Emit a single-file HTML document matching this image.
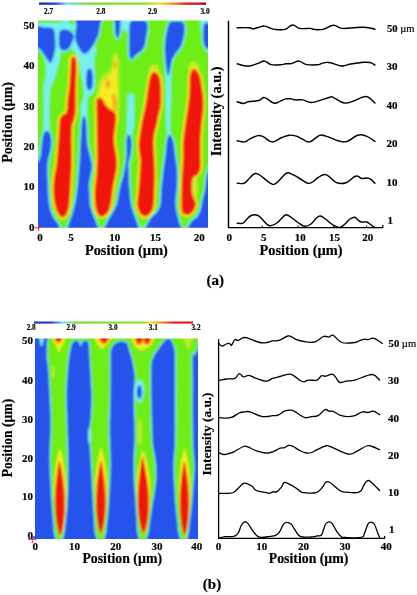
<!DOCTYPE html>
<html><head><meta charset="utf-8"><style>
html,body{margin:0;padding:0;background:#fff;}
svg{display:block;}
text{font-family:"Liberation Serif",serif;font-weight:bold;fill:#000;stroke:#000;stroke-width:0.18px;}
.t{font-size:11px;}
.ax{font-size:14.4px;}
.ay{font-size:14px;}
.cb{font-size:7.2px;stroke-width:0.35px;}
</style></head><body>
<svg width="417" height="595" viewBox="0 0 417 595">
<defs>
<linearGradient id="jetA" x1="0" x2="1" y1="0" y2="0">
<stop offset="0" stop-color="#1a28a0"/>
<stop offset="0.1" stop-color="#2040d8"/>
<stop offset="0.165" stop-color="#70e0f0"/>
<stop offset="0.3" stop-color="#70e030"/>
<stop offset="0.63" stop-color="#88e028"/>
<stop offset="0.72" stop-color="#f4e420"/>
<stop offset="0.8" stop-color="#f49020"/>
<stop offset="0.88" stop-color="#f01818"/>
<stop offset="0.96" stop-color="#d01020"/>
<stop offset="1" stop-color="#700010"/>
</linearGradient>
<linearGradient id="jetB" x1="0" x2="1" y1="0" y2="0">
<stop offset="0" stop-color="#1a30b0"/>
<stop offset="0.11" stop-color="#2040d8"/>
<stop offset="0.18" stop-color="#70e0f0"/>
<stop offset="0.27" stop-color="#70e030"/>
<stop offset="0.68" stop-color="#88e028"/>
<stop offset="0.73" stop-color="#f4e420"/>
<stop offset="0.8" stop-color="#f49020"/>
<stop offset="0.88" stop-color="#f01818"/>
<stop offset="1" stop-color="#e01020"/>
</linearGradient>
<filter id="bl" x="-10%" y="-10%" width="120%" height="120%"><feGaussianBlur stdDeviation="0.9"/></filter>
<clipPath id="clipA"><rect x="38" y="20.5" width="170" height="207.2"/></clipPath>
<clipPath id="clipB"><rect x="35" y="338.5" width="163" height="200.5"/></clipPath>
</defs>

<!-- ===== Panel (a) ===== -->
<rect x="39" y="2.5" width="167" height="2.3" fill="url(#jetA)"/>
<g class="cb">
<text x="48.6" y="14" text-anchor="middle">2.7</text>
<text x="100.8" y="14" text-anchor="middle">2.8</text>
<text x="152.6" y="14" text-anchor="middle">2.9</text>
<text x="205" y="14" text-anchor="middle">3.0</text>
</g>
<g clip-path="url(#clipA)"><g filter="url(#bl)">
<rect x="30" y="13" width="185" height="223" fill="#6cee14"/>
<path d="M34.0,16.0 C41.2,14.2 70.0,14.2 77.0,16.0 C84.0,17.8 77.2,24.8 76.0,27.0 C74.8,29.2 72.3,28.7 70.0,29.0 C67.7,29.3 64.7,29.2 62.0,29.0 C59.3,28.8 57.0,28.3 54.0,28.0 C51.0,27.7 47.3,27.2 44.0,27.0 C40.7,26.8 35.7,28.8 34.0,27.0 C32.3,25.2 26.8,17.8 34.0,16.0Z" fill="#78f0f0"/>
<path d="M52.0,30.0 C53.3,27.7 58.5,26.7 60.0,30.0 C61.5,33.3 61.0,45.5 61.0,50.0 C61.0,54.5 60.4,54.5 60.0,57.0 C59.6,59.5 59.2,62.2 58.5,65.0 C57.8,67.8 56.8,71.5 56.0,74.0 C55.2,76.5 54.9,77.7 54.0,80.0 C53.1,82.3 51.2,84.7 50.5,88.0 C49.8,91.3 49.7,96.3 49.5,100.0 C49.3,103.7 49.3,105.8 49.3,110.0 C49.3,114.2 49.5,121.2 49.5,125.0 C49.5,128.8 50.0,131.7 49.0,133.0 C48.0,134.3 44.3,135.2 43.5,133.0 C42.7,130.8 43.9,123.8 44.0,120.0 C44.1,116.2 44.0,113.3 44.0,110.0 C44.0,106.7 43.8,104.2 43.8,100.0 C43.8,95.8 43.4,89.0 43.8,85.0 C44.2,81.0 45.7,79.3 46.0,76.0 C46.3,72.7 45.8,68.2 45.5,65.0 C45.2,61.8 44.9,59.5 44.0,57.0 C43.1,54.5 41.3,51.5 40.0,50.0 C38.7,48.5 36.7,49.3 36.0,48.0 C35.3,46.7 33.3,42.7 36.0,42.0 C38.7,41.3 49.3,46.0 52.0,44.0 C54.7,42.0 50.7,32.3 52.0,30.0Z" fill="#78f0f0"/>
<path d="M70.0,44.0 C70.2,42.0 72.7,38.0 74.0,38.0 C75.3,38.0 76.3,42.5 78.0,44.0 C79.7,45.5 81.8,46.7 84.0,47.0 C86.2,47.3 89.2,46.0 91.0,46.0 C92.8,46.0 94.1,46.3 95.0,47.0 C95.9,47.7 96.5,48.7 96.5,50.0 C96.5,51.3 95.3,53.3 95.0,55.0 C94.7,56.7 94.6,58.2 94.5,60.0 C94.4,61.8 94.4,63.5 94.5,66.0 C94.6,68.5 94.9,71.8 95.0,75.0 C95.1,78.2 95.3,82.0 95.0,85.0 C94.7,88.0 94.2,91.0 93.0,93.0 C91.8,95.0 89.0,94.5 88.0,97.0 C87.0,99.5 87.2,104.5 87.0,108.0 C86.8,111.5 87.4,116.3 86.5,118.0 C85.6,119.7 82.4,120.2 81.5,118.0 C80.6,115.8 80.6,108.7 81.0,105.0 C81.4,101.3 83.7,99.3 84.0,96.0 C84.3,92.7 83.5,88.7 83.0,85.0 C82.5,81.3 81.6,77.5 81.0,74.0 C80.4,70.5 80.3,67.3 79.5,64.0 C78.7,60.7 77.1,56.3 76.0,54.0 C74.9,51.7 74.0,51.7 73.0,50.0 C72.0,48.3 69.8,46.0 70.0,44.0Z" fill="#78f0f0"/>
<path d="M120.0,16.0 C121.5,13.8 129.3,13.7 131.0,16.0 C132.7,18.3 130.8,27.5 130.0,30.0 C129.2,32.5 127.3,31.2 126.0,31.0 C124.7,30.8 123.0,31.5 122.0,29.0 C121.0,26.5 118.5,18.2 120.0,16.0Z" fill="#78f0f0"/>
<path d="M165.5,66.0 C166.4,63.7 170.1,62.0 171.0,66.0 C171.9,70.0 171.0,83.5 171.0,90.0 C171.0,96.5 170.9,100.3 170.8,105.0 C170.7,109.7 170.6,113.8 170.5,118.0 C170.4,122.2 170.5,126.8 170.5,130.0 C170.5,133.2 171.0,135.8 170.5,137.0 C170.0,138.2 168.2,139.0 167.5,137.0 C166.8,135.0 166.6,129.2 166.3,125.0 C166.1,120.8 166.1,116.2 166.0,112.0 C165.9,107.8 165.9,105.3 165.8,100.0 C165.7,94.7 165.6,85.7 165.5,80.0 C165.4,74.3 164.6,68.3 165.5,66.0Z" fill="#78f0f0"/>
<path d="M128.0,95.0 C129.0,93.3 132.5,92.5 133.5,95.0 C134.5,97.5 134.1,105.0 134.2,110.0 C134.2,115.0 134.2,121.0 133.8,125.0 C133.4,129.0 133.1,132.5 132.0,134.0 C130.9,135.5 127.8,136.3 127.0,134.0 C126.2,131.7 126.9,124.8 127.0,120.0 C127.1,115.2 127.3,109.2 127.5,105.0 C127.7,100.8 127.0,96.7 128.0,95.0Z" fill="#78f0f0"/>
<path d="M201.0,16.0 C202.8,13.3 210.2,10.0 212.0,16.0 C213.8,22.0 212.8,46.1 212.0,52.0 C211.2,57.9 208.5,52.8 207.0,51.5 C205.5,50.2 203.9,47.2 203.0,44.0 C202.1,40.8 201.8,36.7 201.5,32.0 C201.2,27.3 199.2,18.7 201.0,16.0Z" fill="#78f0f0"/>
<path d="M36.0,16.0 C40.3,14.9 57.8,15.0 62.0,16.0 C66.2,17.0 62.7,20.9 61.0,22.0 C59.3,23.1 54.8,22.7 52.0,22.8 C49.2,22.9 46.7,22.6 44.0,22.5 C41.3,22.4 37.3,23.6 36.0,22.5 C34.7,21.4 31.7,17.1 36.0,16.0Z" fill="#6cee14"/>
<path d="M67.5,16.0 C68.8,14.7 75.5,14.9 77.0,16.0 C78.5,17.1 77.2,21.1 76.5,22.5 C75.8,23.9 74.2,24.2 73.0,24.5 C71.8,24.8 70.4,25.4 69.5,24.0 C68.6,22.6 66.2,17.3 67.5,16.0Z" fill="#6cee14"/>
<path d="M36.0,27.5 C37.3,24.4 41.5,27.4 44.0,27.5 C46.5,27.6 49.3,27.4 51.0,27.8 C52.7,28.2 53.3,28.6 54.0,30.0 C54.7,31.4 54.8,33.7 55.0,36.0 C55.2,38.3 55.5,41.7 55.5,44.0 C55.5,46.3 55.4,47.8 55.0,50.0 C54.6,52.2 54.0,54.8 53.3,57.0 C52.6,59.2 51.6,62.3 50.8,63.0 C50.0,63.7 49.3,61.9 48.5,61.0 C47.7,60.1 47.0,58.9 46.0,57.5 C45.0,56.1 43.6,54.0 42.5,52.5 C41.4,51.0 40.6,49.6 39.5,48.5 C38.4,47.4 36.6,49.5 36.0,46.0 C35.4,42.5 34.7,30.6 36.0,27.5Z" fill="#78f0f0" stroke="#78f0f0" stroke-width="3" stroke-linejoin="round"/>
<path d="M60.5,30.5 C61.5,29.6 63.6,29.5 65.0,29.5 C66.4,29.5 67.8,29.8 69.0,30.5 C70.2,31.2 71.7,32.4 72.5,33.5 C73.3,34.6 74.0,35.8 74.0,37.0 C74.0,38.2 73.1,39.5 72.5,41.0 C71.9,42.5 71.3,44.6 70.5,46.0 C69.7,47.4 68.6,48.8 67.5,49.5 C66.4,50.2 65.2,50.6 64.0,50.5 C62.8,50.4 61.3,50.1 60.5,49.0 C59.7,47.9 59.2,46.3 59.0,44.0 C58.8,41.7 58.8,37.2 59.0,35.0 C59.2,32.8 59.5,31.4 60.5,30.5Z" fill="#78f0f0" stroke="#78f0f0" stroke-width="3" stroke-linejoin="round"/>
<path d="M77.0,16.0 C80.9,14.5 96.2,14.2 100.0,16.0 C103.8,17.8 99.8,24.0 99.5,27.0 C99.2,30.0 99.2,31.7 98.5,34.0 C97.8,36.3 96.6,38.8 95.5,41.0 C94.4,43.2 93.2,45.2 92.0,47.0 C90.8,48.8 89.2,50.8 88.0,52.0 C86.8,53.2 85.6,54.0 84.5,54.0 C83.4,54.0 82.5,53.2 81.5,52.0 C80.5,50.8 79.5,49.0 78.5,47.0 C77.5,45.0 76.0,42.3 75.5,40.0 C75.0,37.7 75.3,35.5 75.5,33.0 C75.7,30.5 76.2,27.8 76.5,25.0 C76.8,22.2 73.1,17.5 77.0,16.0Z" fill="#78f0f0" stroke="#78f0f0" stroke-width="3" stroke-linejoin="round"/>
<path d="M89.5,68.5 C90.3,68.5 91.5,69.2 92.0,71.0 C92.5,72.8 92.8,76.3 92.8,79.0 C92.8,81.7 92.8,85.1 92.3,87.0 C91.8,88.9 90.4,90.5 89.5,90.5 C88.6,90.5 87.2,88.9 86.7,87.0 C86.2,85.1 86.2,81.7 86.2,79.0 C86.2,76.3 86.5,72.8 87.0,71.0 C87.5,69.2 88.7,68.5 89.5,68.5Z" fill="#78f0f0" stroke="#78f0f0" stroke-width="3" stroke-linejoin="round"/>
<path d="M115.0,16.0 C115.8,14.0 119.1,14.0 120.0,16.0 C120.9,18.0 120.3,24.8 120.2,28.0 C120.1,31.2 119.8,33.3 119.3,35.0 C118.8,36.7 118.1,38.0 117.5,38.0 C116.9,38.0 116.2,36.7 115.8,35.0 C115.4,33.3 115.1,31.2 115.0,28.0 C114.9,24.8 114.2,18.0 115.0,16.0Z" fill="#78f0f0" stroke="#78f0f0" stroke-width="3" stroke-linejoin="round"/>
<path d="M131.5,21.2 C132.9,20.5 135.8,20.6 138.0,20.6 C140.2,20.6 143.4,20.4 145.0,21.0 C146.6,21.6 146.9,22.5 147.3,24.0 C147.7,25.5 147.5,27.7 147.3,30.0 C147.1,32.3 146.5,35.3 146.0,38.0 C145.5,40.7 145.3,43.8 144.5,46.0 C143.7,48.2 142.3,49.6 141.0,51.0 C139.7,52.4 137.8,53.4 136.5,54.5 C135.2,55.6 134.3,56.7 133.5,57.5 C132.7,58.3 132.1,59.6 131.5,59.5 C130.9,59.4 130.2,58.6 129.8,57.0 C129.4,55.4 129.3,53.7 129.2,50.0 C129.1,46.3 129.2,39.2 129.3,35.0 C129.4,30.8 129.1,27.3 129.5,25.0 C129.9,22.7 130.1,21.9 131.5,21.2Z" fill="#78f0f0" stroke="#78f0f0" stroke-width="3" stroke-linejoin="round"/>
<path d="M170.5,22.0 C171.8,21.4 174.1,21.3 176.0,21.3 C177.9,21.3 180.6,21.2 182.0,21.8 C183.4,22.4 183.9,23.3 184.3,25.0 C184.7,26.7 184.7,29.5 184.5,32.0 C184.3,34.5 183.7,37.5 183.0,40.0 C182.3,42.5 181.7,44.8 180.5,47.0 C179.3,49.2 177.4,50.8 176.0,53.0 C174.6,55.2 172.9,57.7 172.0,60.0 C171.1,62.3 171.1,64.3 170.5,67.0 C169.9,69.7 169.2,75.5 168.5,76.0 C167.8,76.5 167.0,72.7 166.5,70.0 C166.0,67.3 165.8,63.7 165.5,60.0 C165.2,56.3 164.7,52.2 164.8,48.0 C164.9,43.8 165.4,38.8 166.0,35.0 C166.6,31.2 167.8,27.2 168.5,25.0 C169.2,22.8 169.2,22.6 170.5,22.0Z" fill="#78f0f0" stroke="#78f0f0" stroke-width="3" stroke-linejoin="round"/>
<path d="M36.0,166.0 C36.4,154.0 37.7,163.8 38.5,162.0 C39.3,160.2 40.2,157.8 40.8,155.0 C41.3,152.2 41.4,148.2 41.8,145.0 C42.2,141.8 42.3,138.3 43.0,136.0 C43.7,133.7 44.9,131.5 46.0,131.0 C47.1,130.5 48.6,131.5 49.5,133.0 C50.4,134.5 51.1,137.2 51.3,140.0 C51.5,142.8 51.0,146.7 50.5,150.0 C50.0,153.3 48.5,156.7 48.0,160.0 C47.5,163.3 47.3,165.8 47.3,170.0 C47.3,174.2 47.5,179.2 47.8,185.0 C48.1,190.8 48.3,199.7 49.2,205.0 C50.1,210.3 51.5,213.8 53.0,217.0 C54.5,220.2 56.9,221.2 58.0,224.0 C59.1,226.8 63.2,232.3 59.5,234.0 C55.8,235.7 39.9,245.3 36.0,234.0 C32.1,222.7 35.6,178.0 36.0,166.0Z" fill="#78f0f0" stroke="#78f0f0" stroke-width="3" stroke-linejoin="round"/>
<path d="M84.0,116.0 C84.6,116.0 85.6,117.7 86.0,120.0 C86.4,122.3 86.2,125.8 86.5,130.0 C86.8,134.2 86.8,140.0 87.5,145.0 C88.2,150.0 90.2,156.3 91.0,160.0 C91.8,163.7 92.2,164.0 92.0,167.0 C91.8,170.0 90.5,175.0 90.0,178.0 C89.5,181.0 89.1,182.2 89.0,185.0 C88.9,187.8 89.3,191.7 89.5,195.0 C89.7,198.3 89.4,201.7 90.0,205.0 C90.6,208.3 91.8,211.7 93.0,215.0 C94.2,218.3 96.2,221.8 97.0,225.0 C97.8,228.2 102.4,232.5 97.5,234.0 C92.6,235.5 72.3,235.5 67.5,234.0 C62.7,232.5 67.8,228.2 68.5,225.0 C69.2,221.8 71.0,218.3 72.0,215.0 C73.0,211.7 74.0,208.3 74.7,205.0 C75.5,201.7 76.0,198.3 76.5,195.0 C77.0,191.7 77.4,189.2 77.8,185.0 C78.2,180.8 78.7,174.2 79.0,170.0 C79.3,165.8 79.5,164.2 79.8,160.0 C80.0,155.8 80.2,150.0 80.5,145.0 C80.8,140.0 81.0,134.2 81.3,130.0 C81.6,125.8 81.8,122.3 82.2,120.0 C82.7,117.7 83.4,116.0 84.0,116.0Z" fill="#78f0f0" stroke="#78f0f0" stroke-width="3" stroke-linejoin="round"/>
<path d="M128.5,134.5 C129.2,134.5 130.3,136.2 130.8,138.0 C131.3,139.8 131.6,142.2 131.5,145.0 C131.4,147.8 131.0,152.0 130.5,155.0 C130.0,158.0 128.8,160.5 128.5,163.0 C128.2,165.5 128.5,166.3 128.6,170.0 C128.7,173.7 128.7,179.2 129.1,185.0 C129.5,190.8 130.2,199.7 131.2,205.0 C132.2,210.3 133.9,213.5 135.0,217.0 C136.1,220.5 137.4,223.2 138.0,226.0 C138.6,228.8 144.2,232.7 138.5,234.0 C132.8,235.3 109.4,235.5 104.0,234.0 C98.6,232.5 105.0,227.8 106.0,225.0 C107.0,222.2 108.2,220.3 110.0,217.0 C111.8,213.7 115.1,208.7 116.5,205.0 C117.9,201.3 117.8,198.3 118.5,195.0 C119.2,191.7 119.8,188.3 120.6,185.0 C121.4,181.7 122.7,178.3 123.5,175.0 C124.3,171.7 124.8,168.3 125.3,165.0 C125.8,161.7 126.3,158.3 126.5,155.0 C126.7,151.7 126.5,147.8 126.5,145.0 C126.5,142.2 126.5,139.8 126.8,138.0 C127.1,136.2 127.8,134.5 128.5,134.5Z" fill="#78f0f0" stroke="#78f0f0" stroke-width="3" stroke-linejoin="round"/>
<path d="M169.0,135.0 C169.8,134.2 170.8,135.8 171.5,137.0 C172.2,138.2 172.7,139.0 173.3,142.0 C173.9,145.0 174.4,150.3 175.0,155.0 C175.6,159.7 176.7,165.0 177.0,170.0 C177.3,175.0 177.2,180.0 177.0,185.0 C176.8,190.0 175.6,195.5 175.5,200.0 C175.4,204.5 175.9,208.3 176.5,212.0 C177.1,215.7 178.4,218.3 179.0,222.0 C179.6,225.7 185.6,232.0 180.0,234.0 C174.4,236.0 151.0,235.5 145.5,234.0 C140.0,232.5 145.9,227.8 147.0,225.0 C148.1,222.2 150.3,219.2 152.0,217.0 C153.7,214.8 155.6,214.0 157.0,212.0 C158.4,210.0 159.6,207.8 160.3,205.0 C161.0,202.2 160.8,198.3 161.0,195.0 C161.2,191.7 161.4,189.2 161.8,185.0 C162.2,180.8 162.9,175.0 163.5,170.0 C164.1,165.0 164.9,159.7 165.5,155.0 C166.1,150.3 166.2,145.3 166.8,142.0 C167.4,138.7 168.2,135.8 169.0,135.0Z" fill="#78f0f0" stroke="#78f0f0" stroke-width="3" stroke-linejoin="round"/>
<path d="M203.8,25.0 C204.3,23.0 205.0,22.8 206.0,23.0 C207.0,23.2 209.3,22.2 210.0,26.0 C210.7,29.8 210.6,42.2 210.0,46.0 C209.4,49.8 207.5,48.8 206.5,48.5 C205.5,48.2 204.6,46.2 204.0,44.0 C203.4,41.8 203.2,38.2 203.2,35.0 C203.2,31.8 203.3,27.0 203.8,25.0Z" fill="#78f0f0" stroke="#78f0f0" stroke-width="3" stroke-linejoin="round"/>
<path d="M212.0,168.0 C211.2,158.2 208.2,171.3 207.0,175.0 C205.8,178.7 205.8,185.8 205.0,190.0 C204.2,194.2 203.2,196.7 202.5,200.0 C201.8,203.3 201.4,207.2 200.5,210.0 C199.6,212.8 198.6,215.0 197.0,217.0 C195.4,219.0 192.4,219.2 191.0,222.0 C189.6,224.8 185.0,232.0 188.5,234.0 C192.0,236.0 208.1,245.0 212.0,234.0 C215.9,223.0 212.8,177.8 212.0,168.0Z" fill="#78f0f0" stroke="#78f0f0" stroke-width="3" stroke-linejoin="round"/>
<path d="M36.0,27.5 C37.3,24.4 41.5,27.4 44.0,27.5 C46.5,27.6 49.3,27.4 51.0,27.8 C52.7,28.2 53.3,28.6 54.0,30.0 C54.7,31.4 54.8,33.7 55.0,36.0 C55.2,38.3 55.5,41.7 55.5,44.0 C55.5,46.3 55.4,47.8 55.0,50.0 C54.6,52.2 54.0,54.8 53.3,57.0 C52.6,59.2 51.6,62.3 50.8,63.0 C50.0,63.7 49.3,61.9 48.5,61.0 C47.7,60.1 47.0,58.9 46.0,57.5 C45.0,56.1 43.6,54.0 42.5,52.5 C41.4,51.0 40.6,49.6 39.5,48.5 C38.4,47.4 36.6,49.5 36.0,46.0 C35.4,42.5 34.7,30.6 36.0,27.5Z" fill="#2652ec"/>
<path d="M60.5,30.5 C61.5,29.6 63.6,29.5 65.0,29.5 C66.4,29.5 67.8,29.8 69.0,30.5 C70.2,31.2 71.7,32.4 72.5,33.5 C73.3,34.6 74.0,35.8 74.0,37.0 C74.0,38.2 73.1,39.5 72.5,41.0 C71.9,42.5 71.3,44.6 70.5,46.0 C69.7,47.4 68.6,48.8 67.5,49.5 C66.4,50.2 65.2,50.6 64.0,50.5 C62.8,50.4 61.3,50.1 60.5,49.0 C59.7,47.9 59.2,46.3 59.0,44.0 C58.8,41.7 58.8,37.2 59.0,35.0 C59.2,32.8 59.5,31.4 60.5,30.5Z" fill="#2652ec"/>
<path d="M77.0,16.0 C80.9,14.5 96.2,14.2 100.0,16.0 C103.8,17.8 99.8,24.0 99.5,27.0 C99.2,30.0 99.2,31.7 98.5,34.0 C97.8,36.3 96.6,38.8 95.5,41.0 C94.4,43.2 93.2,45.2 92.0,47.0 C90.8,48.8 89.2,50.8 88.0,52.0 C86.8,53.2 85.6,54.0 84.5,54.0 C83.4,54.0 82.5,53.2 81.5,52.0 C80.5,50.8 79.5,49.0 78.5,47.0 C77.5,45.0 76.0,42.3 75.5,40.0 C75.0,37.7 75.3,35.5 75.5,33.0 C75.7,30.5 76.2,27.8 76.5,25.0 C76.8,22.2 73.1,17.5 77.0,16.0Z" fill="#2652ec"/>
<path d="M89.5,68.5 C90.3,68.5 91.5,69.2 92.0,71.0 C92.5,72.8 92.8,76.3 92.8,79.0 C92.8,81.7 92.8,85.1 92.3,87.0 C91.8,88.9 90.4,90.5 89.5,90.5 C88.6,90.5 87.2,88.9 86.7,87.0 C86.2,85.1 86.2,81.7 86.2,79.0 C86.2,76.3 86.5,72.8 87.0,71.0 C87.5,69.2 88.7,68.5 89.5,68.5Z" fill="#2652ec"/>
<path d="M115.0,16.0 C115.8,14.0 119.1,14.0 120.0,16.0 C120.9,18.0 120.3,24.8 120.2,28.0 C120.1,31.2 119.8,33.3 119.3,35.0 C118.8,36.7 118.1,38.0 117.5,38.0 C116.9,38.0 116.2,36.7 115.8,35.0 C115.4,33.3 115.1,31.2 115.0,28.0 C114.9,24.8 114.2,18.0 115.0,16.0Z" fill="#2652ec"/>
<path d="M131.5,21.2 C132.9,20.5 135.8,20.6 138.0,20.6 C140.2,20.6 143.4,20.4 145.0,21.0 C146.6,21.6 146.9,22.5 147.3,24.0 C147.7,25.5 147.5,27.7 147.3,30.0 C147.1,32.3 146.5,35.3 146.0,38.0 C145.5,40.7 145.3,43.8 144.5,46.0 C143.7,48.2 142.3,49.6 141.0,51.0 C139.7,52.4 137.8,53.4 136.5,54.5 C135.2,55.6 134.3,56.7 133.5,57.5 C132.7,58.3 132.1,59.6 131.5,59.5 C130.9,59.4 130.2,58.6 129.8,57.0 C129.4,55.4 129.3,53.7 129.2,50.0 C129.1,46.3 129.2,39.2 129.3,35.0 C129.4,30.8 129.1,27.3 129.5,25.0 C129.9,22.7 130.1,21.9 131.5,21.2Z" fill="#2652ec"/>
<path d="M170.5,22.0 C171.8,21.4 174.1,21.3 176.0,21.3 C177.9,21.3 180.6,21.2 182.0,21.8 C183.4,22.4 183.9,23.3 184.3,25.0 C184.7,26.7 184.7,29.5 184.5,32.0 C184.3,34.5 183.7,37.5 183.0,40.0 C182.3,42.5 181.7,44.8 180.5,47.0 C179.3,49.2 177.4,50.8 176.0,53.0 C174.6,55.2 172.9,57.7 172.0,60.0 C171.1,62.3 171.1,64.3 170.5,67.0 C169.9,69.7 169.2,75.5 168.5,76.0 C167.8,76.5 167.0,72.7 166.5,70.0 C166.0,67.3 165.8,63.7 165.5,60.0 C165.2,56.3 164.7,52.2 164.8,48.0 C164.9,43.8 165.4,38.8 166.0,35.0 C166.6,31.2 167.8,27.2 168.5,25.0 C169.2,22.8 169.2,22.6 170.5,22.0Z" fill="#2652ec"/>
<path d="M36.0,166.0 C36.4,154.0 37.7,163.8 38.5,162.0 C39.3,160.2 40.2,157.8 40.8,155.0 C41.3,152.2 41.4,148.2 41.8,145.0 C42.2,141.8 42.3,138.3 43.0,136.0 C43.7,133.7 44.9,131.5 46.0,131.0 C47.1,130.5 48.6,131.5 49.5,133.0 C50.4,134.5 51.1,137.2 51.3,140.0 C51.5,142.8 51.0,146.7 50.5,150.0 C50.0,153.3 48.5,156.7 48.0,160.0 C47.5,163.3 47.3,165.8 47.3,170.0 C47.3,174.2 47.5,179.2 47.8,185.0 C48.1,190.8 48.3,199.7 49.2,205.0 C50.1,210.3 51.5,213.8 53.0,217.0 C54.5,220.2 56.9,221.2 58.0,224.0 C59.1,226.8 63.2,232.3 59.5,234.0 C55.8,235.7 39.9,245.3 36.0,234.0 C32.1,222.7 35.6,178.0 36.0,166.0Z" fill="#2652ec"/>
<path d="M84.0,116.0 C84.6,116.0 85.6,117.7 86.0,120.0 C86.4,122.3 86.2,125.8 86.5,130.0 C86.8,134.2 86.8,140.0 87.5,145.0 C88.2,150.0 90.2,156.3 91.0,160.0 C91.8,163.7 92.2,164.0 92.0,167.0 C91.8,170.0 90.5,175.0 90.0,178.0 C89.5,181.0 89.1,182.2 89.0,185.0 C88.9,187.8 89.3,191.7 89.5,195.0 C89.7,198.3 89.4,201.7 90.0,205.0 C90.6,208.3 91.8,211.7 93.0,215.0 C94.2,218.3 96.2,221.8 97.0,225.0 C97.8,228.2 102.4,232.5 97.5,234.0 C92.6,235.5 72.3,235.5 67.5,234.0 C62.7,232.5 67.8,228.2 68.5,225.0 C69.2,221.8 71.0,218.3 72.0,215.0 C73.0,211.7 74.0,208.3 74.7,205.0 C75.5,201.7 76.0,198.3 76.5,195.0 C77.0,191.7 77.4,189.2 77.8,185.0 C78.2,180.8 78.7,174.2 79.0,170.0 C79.3,165.8 79.5,164.2 79.8,160.0 C80.0,155.8 80.2,150.0 80.5,145.0 C80.8,140.0 81.0,134.2 81.3,130.0 C81.6,125.8 81.8,122.3 82.2,120.0 C82.7,117.7 83.4,116.0 84.0,116.0Z" fill="#2652ec"/>
<path d="M128.5,134.5 C129.2,134.5 130.3,136.2 130.8,138.0 C131.3,139.8 131.6,142.2 131.5,145.0 C131.4,147.8 131.0,152.0 130.5,155.0 C130.0,158.0 128.8,160.5 128.5,163.0 C128.2,165.5 128.5,166.3 128.6,170.0 C128.7,173.7 128.7,179.2 129.1,185.0 C129.5,190.8 130.2,199.7 131.2,205.0 C132.2,210.3 133.9,213.5 135.0,217.0 C136.1,220.5 137.4,223.2 138.0,226.0 C138.6,228.8 144.2,232.7 138.5,234.0 C132.8,235.3 109.4,235.5 104.0,234.0 C98.6,232.5 105.0,227.8 106.0,225.0 C107.0,222.2 108.2,220.3 110.0,217.0 C111.8,213.7 115.1,208.7 116.5,205.0 C117.9,201.3 117.8,198.3 118.5,195.0 C119.2,191.7 119.8,188.3 120.6,185.0 C121.4,181.7 122.7,178.3 123.5,175.0 C124.3,171.7 124.8,168.3 125.3,165.0 C125.8,161.7 126.3,158.3 126.5,155.0 C126.7,151.7 126.5,147.8 126.5,145.0 C126.5,142.2 126.5,139.8 126.8,138.0 C127.1,136.2 127.8,134.5 128.5,134.5Z" fill="#2652ec"/>
<path d="M169.0,135.0 C169.8,134.2 170.8,135.8 171.5,137.0 C172.2,138.2 172.7,139.0 173.3,142.0 C173.9,145.0 174.4,150.3 175.0,155.0 C175.6,159.7 176.7,165.0 177.0,170.0 C177.3,175.0 177.2,180.0 177.0,185.0 C176.8,190.0 175.6,195.5 175.5,200.0 C175.4,204.5 175.9,208.3 176.5,212.0 C177.1,215.7 178.4,218.3 179.0,222.0 C179.6,225.7 185.6,232.0 180.0,234.0 C174.4,236.0 151.0,235.5 145.5,234.0 C140.0,232.5 145.9,227.8 147.0,225.0 C148.1,222.2 150.3,219.2 152.0,217.0 C153.7,214.8 155.6,214.0 157.0,212.0 C158.4,210.0 159.6,207.8 160.3,205.0 C161.0,202.2 160.8,198.3 161.0,195.0 C161.2,191.7 161.4,189.2 161.8,185.0 C162.2,180.8 162.9,175.0 163.5,170.0 C164.1,165.0 164.9,159.7 165.5,155.0 C166.1,150.3 166.2,145.3 166.8,142.0 C167.4,138.7 168.2,135.8 169.0,135.0Z" fill="#2652ec"/>
<path d="M203.8,25.0 C204.3,23.0 205.0,22.8 206.0,23.0 C207.0,23.2 209.3,22.2 210.0,26.0 C210.7,29.8 210.6,42.2 210.0,46.0 C209.4,49.8 207.5,48.8 206.5,48.5 C205.5,48.2 204.6,46.2 204.0,44.0 C203.4,41.8 203.2,38.2 203.2,35.0 C203.2,31.8 203.3,27.0 203.8,25.0Z" fill="#2652ec"/>
<path d="M212.0,168.0 C211.2,158.2 208.2,171.3 207.0,175.0 C205.8,178.7 205.8,185.8 205.0,190.0 C204.2,194.2 203.2,196.7 202.5,200.0 C201.8,203.3 201.4,207.2 200.5,210.0 C199.6,212.8 198.6,215.0 197.0,217.0 C195.4,219.0 192.4,219.2 191.0,222.0 C189.6,224.8 185.0,232.0 188.5,234.0 C192.0,236.0 208.1,245.0 212.0,234.0 C215.9,223.0 212.8,177.8 212.0,168.0Z" fill="#2652ec"/>
<path d="M114.0,52.0 C115.0,51.7 117.6,53.7 118.5,56.0 C119.4,58.3 119.3,62.0 119.5,66.0 C119.7,70.0 119.4,75.2 119.5,80.0 C119.6,84.8 120.0,90.0 120.0,95.0 C120.0,100.0 119.7,105.8 119.5,110.0 C119.3,114.2 119.5,117.7 119.0,120.0 C118.5,122.3 118.3,124.8 116.5,124.0 C114.7,123.2 110.9,118.5 108.0,115.0 C105.1,111.5 100.9,106.3 99.0,103.0 C97.1,99.7 96.8,97.8 96.5,95.0 C96.2,92.2 96.8,89.0 97.5,86.0 C98.2,83.0 99.4,79.3 101.0,77.0 C102.6,74.7 105.2,73.8 107.0,72.0 C108.8,70.2 110.6,68.3 111.5,66.0 C112.4,63.7 112.1,60.3 112.5,58.0 C112.9,55.7 113.0,52.3 114.0,52.0Z" fill="#b4ec20"/>
<path d="M115.0,56.0 C115.5,55.0 116.2,57.3 116.5,59.0 C116.8,60.7 117.0,63.2 117.0,66.0 C117.0,68.8 116.8,72.8 116.8,76.0 C116.8,79.2 117.2,81.8 117.3,85.0 C117.4,88.2 117.3,91.7 117.3,95.0 C117.2,98.3 117.1,101.7 117.0,105.0 C116.9,108.3 117.1,112.7 116.8,115.0 C116.5,117.3 116.5,119.7 115.0,119.0 C113.5,118.3 110.3,114.3 108.0,111.0 C105.7,107.7 102.5,101.7 101.0,99.0 C99.5,96.3 99.2,96.8 99.0,95.0 C98.8,93.2 99.2,90.3 100.0,88.0 C100.8,85.7 102.2,82.8 103.5,81.0 C104.8,79.2 106.6,78.3 108.0,77.0 C109.4,75.7 111.0,75.0 112.0,73.0 C113.0,71.0 113.3,67.8 113.8,65.0 C114.3,62.2 114.5,57.0 115.0,56.0Z" fill="#f4ec20"/>
<path d="M154.0,64.0 C155.3,64.0 157.1,65.2 158.0,66.5 C158.9,67.8 160.2,70.4 159.5,72.0 C158.8,73.6 155.8,76.0 154.0,76.0 C152.2,76.0 149.2,73.6 148.5,72.0 C147.8,70.4 149.1,67.8 150.0,66.5 C150.9,65.2 152.7,64.0 154.0,64.0Z" fill="#c4ec20"/>
<path d="M193.5,61.5 C194.8,61.5 196.6,62.6 197.5,64.0 C198.4,65.4 199.7,68.3 199.0,70.0 C198.3,71.7 195.2,74.0 193.5,74.0 C191.8,74.0 189.2,71.7 188.5,70.0 C187.8,68.3 188.7,65.4 189.5,64.0 C190.3,62.6 192.2,61.5 193.5,61.5Z" fill="#c4ec20"/>
<path d="M73.5,57.5 C74.0,57.5 74.7,58.2 75.0,60.0 C75.3,61.8 75.5,63.8 75.5,68.0 C75.5,72.2 74.9,79.7 74.8,85.0 C74.7,90.3 74.7,95.8 74.7,100.0 C74.7,104.2 74.9,107.0 74.7,110.0 C74.5,113.0 74.1,115.3 73.5,118.0 C72.9,120.7 71.5,122.2 71.0,126.0 C70.5,129.8 70.6,134.5 70.6,141.0 C70.5,147.5 70.9,157.7 70.7,165.0 C70.5,172.3 70.0,178.3 69.6,185.0 C69.2,191.7 68.8,200.3 68.2,205.0 C67.6,209.7 67.0,211.1 66.0,213.0 C65.0,214.9 63.7,216.5 62.5,216.5 C61.3,216.5 60.1,214.9 59.0,213.0 C57.9,211.1 56.8,208.8 56.0,205.0 C55.2,201.2 54.4,195.0 54.3,190.0 C54.2,185.0 55.0,179.2 55.5,175.0 C56.0,170.8 56.8,170.7 57.4,165.0 C58.0,159.3 58.9,147.2 59.4,141.0 C59.9,134.8 60.0,131.5 60.2,128.0 C60.4,124.5 60.3,122.0 60.8,120.0 C61.3,118.0 62.0,117.0 63.0,116.0 C64.0,115.0 65.6,115.3 66.5,114.0 C67.4,112.7 68.0,110.3 68.3,108.0 C68.6,105.7 68.2,103.8 68.6,100.0 C69.0,96.2 70.1,90.3 70.6,85.0 C71.1,79.7 71.3,72.2 71.5,68.0 C71.7,63.8 71.7,61.8 72.0,60.0 C72.3,58.2 73.0,57.5 73.5,57.5Z" fill="#f4ec20" stroke="#f4ec20" stroke-width="6" stroke-linejoin="round"/>
<path d="M98.3,99.5 C98.8,99.3 100.1,98.7 100.8,99.0 C101.5,99.3 102.0,100.6 102.5,101.5 C103.0,102.4 103.4,103.6 104.0,104.5 C104.6,105.4 105.2,106.2 106.0,107.0 C106.8,107.8 107.7,108.8 108.5,109.5 C109.3,110.2 110.2,110.5 111.0,111.0 C111.8,111.5 112.8,111.7 113.5,112.5 C114.2,113.3 114.8,114.2 115.0,116.0 C115.2,117.8 115.0,120.7 114.8,123.0 C114.6,125.3 114.1,127.0 113.8,130.0 C113.5,133.0 112.7,136.0 113.0,141.0 C113.3,146.0 115.4,155.2 115.8,160.0 C116.2,164.8 116.1,165.8 115.5,170.0 C114.9,174.2 113.2,180.0 112.4,185.0 C111.6,190.0 111.2,195.8 110.5,200.0 C109.8,204.2 109.0,207.6 108.0,210.0 C107.0,212.4 105.7,213.6 104.5,214.5 C103.3,215.4 102.1,215.9 101.0,215.5 C99.9,215.1 98.8,213.8 98.0,212.0 C97.2,210.2 96.6,208.7 96.2,205.0 C95.8,201.3 95.6,195.0 95.8,190.0 C96.0,185.0 97.0,180.0 97.4,175.0 C97.8,170.0 98.0,165.7 98.1,160.0 C98.2,154.3 98.0,146.8 98.0,141.0 C98.0,135.2 97.9,130.2 97.8,125.0 C97.7,119.8 97.5,114.2 97.4,110.0 C97.4,105.8 97.3,101.8 97.5,100.0 C97.7,98.2 97.8,99.7 98.3,99.5Z" fill="#f4ec20" stroke="#f4ec20" stroke-width="6" stroke-linejoin="round"/>
<path d="M154.0,73.0 C155.0,72.7 156.2,74.0 157.0,75.0 C157.8,76.0 158.5,77.3 159.0,79.0 C159.5,80.7 159.7,80.7 159.8,85.0 C159.9,89.3 160.2,100.0 159.8,105.0 C159.4,110.0 158.2,111.7 157.5,115.0 C156.8,118.3 156.3,122.0 155.6,125.0 C154.9,128.0 154.0,130.3 153.5,133.0 C153.0,135.7 152.7,137.3 152.6,141.0 C152.5,144.7 152.8,150.2 153.0,155.0 C153.2,159.8 153.7,165.0 153.8,170.0 C153.9,175.0 153.8,179.2 153.6,185.0 C153.4,190.8 153.2,200.5 152.6,205.0 C152.0,209.5 151.2,210.2 150.0,212.0 C148.8,213.8 147.0,215.3 145.5,215.5 C144.0,215.7 142.2,214.8 141.0,213.0 C139.8,211.2 138.6,208.0 138.3,205.0 C138.0,202.0 138.7,198.3 139.0,195.0 C139.3,191.7 139.7,189.2 140.0,185.0 C140.3,180.8 140.8,174.2 141.0,170.0 C141.2,165.8 141.7,163.3 141.5,160.0 C141.3,156.7 140.2,153.2 140.0,150.0 C139.8,146.8 139.6,145.2 140.0,141.0 C140.4,136.8 141.6,129.8 142.4,125.0 C143.2,120.2 144.3,115.3 145.0,112.0 C145.7,108.7 146.0,107.8 146.5,105.0 C147.0,102.2 147.5,98.3 148.0,95.0 C148.5,91.7 149.0,88.0 149.5,85.0 C150.0,82.0 150.2,79.0 151.0,77.0 C151.8,75.0 153.0,73.3 154.0,73.0Z" fill="#f4ec20" stroke="#f4ec20" stroke-width="6" stroke-linejoin="round"/>
<path d="M193.5,70.0 C194.4,69.3 195.6,70.8 196.5,72.0 C197.4,73.2 198.3,74.8 199.0,77.0 C199.7,79.2 199.9,81.2 200.5,85.0 C201.1,88.8 202.2,95.5 202.5,100.0 C202.8,104.5 202.3,107.8 202.0,112.0 C201.7,116.2 200.9,120.2 200.5,125.0 C200.1,129.8 199.7,136.0 199.5,141.0 C199.3,146.0 199.5,150.5 199.5,155.0 C199.5,159.5 199.9,164.8 199.5,168.0 C199.1,171.2 198.1,172.7 197.0,174.0 C195.9,175.3 194.0,174.7 193.0,176.0 C192.0,177.3 191.3,179.3 191.0,182.0 C190.7,184.7 190.7,189.2 191.0,192.0 C191.3,194.8 192.4,197.2 193.0,199.0 C193.6,200.8 194.7,201.3 194.8,203.0 C194.9,204.7 194.3,207.3 193.5,209.0 C192.7,210.7 191.2,212.2 190.0,213.0 C188.8,213.8 187.7,214.2 186.5,214.0 C185.3,213.8 183.7,213.5 183.0,212.0 C182.3,210.5 182.4,208.7 182.3,205.0 C182.2,201.3 182.4,195.0 182.5,190.0 C182.6,185.0 182.8,180.0 183.0,175.0 C183.2,170.0 183.8,165.7 184.0,160.0 C184.2,154.3 183.8,146.8 184.2,141.0 C184.6,135.2 185.5,130.2 186.2,125.0 C186.9,119.8 187.8,115.0 188.5,110.0 C189.2,105.0 190.0,99.2 190.3,95.0 C190.6,90.8 190.4,88.2 190.5,85.0 C190.6,81.8 190.5,78.5 191.0,76.0 C191.5,73.5 192.6,70.7 193.5,70.0Z" fill="#f4ec20" stroke="#f4ec20" stroke-width="6" stroke-linejoin="round"/>
<path d="M73.5,57.5 C74.0,57.5 74.7,58.2 75.0,60.0 C75.3,61.8 75.5,63.8 75.5,68.0 C75.5,72.2 74.9,79.7 74.8,85.0 C74.7,90.3 74.7,95.8 74.7,100.0 C74.7,104.2 74.9,107.0 74.7,110.0 C74.5,113.0 74.1,115.3 73.5,118.0 C72.9,120.7 71.5,122.2 71.0,126.0 C70.5,129.8 70.6,134.5 70.6,141.0 C70.5,147.5 70.9,157.7 70.7,165.0 C70.5,172.3 70.0,178.3 69.6,185.0 C69.2,191.7 68.8,200.3 68.2,205.0 C67.6,209.7 67.0,211.1 66.0,213.0 C65.0,214.9 63.7,216.5 62.5,216.5 C61.3,216.5 60.1,214.9 59.0,213.0 C57.9,211.1 56.8,208.8 56.0,205.0 C55.2,201.2 54.4,195.0 54.3,190.0 C54.2,185.0 55.0,179.2 55.5,175.0 C56.0,170.8 56.8,170.7 57.4,165.0 C58.0,159.3 58.9,147.2 59.4,141.0 C59.9,134.8 60.0,131.5 60.2,128.0 C60.4,124.5 60.3,122.0 60.8,120.0 C61.3,118.0 62.0,117.0 63.0,116.0 C64.0,115.0 65.6,115.3 66.5,114.0 C67.4,112.7 68.0,110.3 68.3,108.0 C68.6,105.7 68.2,103.8 68.6,100.0 C69.0,96.2 70.1,90.3 70.6,85.0 C71.1,79.7 71.3,72.2 71.5,68.0 C71.7,63.8 71.7,61.8 72.0,60.0 C72.3,58.2 73.0,57.5 73.5,57.5Z" fill="#f8a018" stroke="#f8a018" stroke-width="3.2" stroke-linejoin="round"/>
<path d="M98.3,99.5 C98.8,99.3 100.1,98.7 100.8,99.0 C101.5,99.3 102.0,100.6 102.5,101.5 C103.0,102.4 103.4,103.6 104.0,104.5 C104.6,105.4 105.2,106.2 106.0,107.0 C106.8,107.8 107.7,108.8 108.5,109.5 C109.3,110.2 110.2,110.5 111.0,111.0 C111.8,111.5 112.8,111.7 113.5,112.5 C114.2,113.3 114.8,114.2 115.0,116.0 C115.2,117.8 115.0,120.7 114.8,123.0 C114.6,125.3 114.1,127.0 113.8,130.0 C113.5,133.0 112.7,136.0 113.0,141.0 C113.3,146.0 115.4,155.2 115.8,160.0 C116.2,164.8 116.1,165.8 115.5,170.0 C114.9,174.2 113.2,180.0 112.4,185.0 C111.6,190.0 111.2,195.8 110.5,200.0 C109.8,204.2 109.0,207.6 108.0,210.0 C107.0,212.4 105.7,213.6 104.5,214.5 C103.3,215.4 102.1,215.9 101.0,215.5 C99.9,215.1 98.8,213.8 98.0,212.0 C97.2,210.2 96.6,208.7 96.2,205.0 C95.8,201.3 95.6,195.0 95.8,190.0 C96.0,185.0 97.0,180.0 97.4,175.0 C97.8,170.0 98.0,165.7 98.1,160.0 C98.2,154.3 98.0,146.8 98.0,141.0 C98.0,135.2 97.9,130.2 97.8,125.0 C97.7,119.8 97.5,114.2 97.4,110.0 C97.4,105.8 97.3,101.8 97.5,100.0 C97.7,98.2 97.8,99.7 98.3,99.5Z" fill="#f8a018" stroke="#f8a018" stroke-width="3.2" stroke-linejoin="round"/>
<path d="M154.0,73.0 C155.0,72.7 156.2,74.0 157.0,75.0 C157.8,76.0 158.5,77.3 159.0,79.0 C159.5,80.7 159.7,80.7 159.8,85.0 C159.9,89.3 160.2,100.0 159.8,105.0 C159.4,110.0 158.2,111.7 157.5,115.0 C156.8,118.3 156.3,122.0 155.6,125.0 C154.9,128.0 154.0,130.3 153.5,133.0 C153.0,135.7 152.7,137.3 152.6,141.0 C152.5,144.7 152.8,150.2 153.0,155.0 C153.2,159.8 153.7,165.0 153.8,170.0 C153.9,175.0 153.8,179.2 153.6,185.0 C153.4,190.8 153.2,200.5 152.6,205.0 C152.0,209.5 151.2,210.2 150.0,212.0 C148.8,213.8 147.0,215.3 145.5,215.5 C144.0,215.7 142.2,214.8 141.0,213.0 C139.8,211.2 138.6,208.0 138.3,205.0 C138.0,202.0 138.7,198.3 139.0,195.0 C139.3,191.7 139.7,189.2 140.0,185.0 C140.3,180.8 140.8,174.2 141.0,170.0 C141.2,165.8 141.7,163.3 141.5,160.0 C141.3,156.7 140.2,153.2 140.0,150.0 C139.8,146.8 139.6,145.2 140.0,141.0 C140.4,136.8 141.6,129.8 142.4,125.0 C143.2,120.2 144.3,115.3 145.0,112.0 C145.7,108.7 146.0,107.8 146.5,105.0 C147.0,102.2 147.5,98.3 148.0,95.0 C148.5,91.7 149.0,88.0 149.5,85.0 C150.0,82.0 150.2,79.0 151.0,77.0 C151.8,75.0 153.0,73.3 154.0,73.0Z" fill="#f8a018" stroke="#f8a018" stroke-width="3.2" stroke-linejoin="round"/>
<path d="M193.5,70.0 C194.4,69.3 195.6,70.8 196.5,72.0 C197.4,73.2 198.3,74.8 199.0,77.0 C199.7,79.2 199.9,81.2 200.5,85.0 C201.1,88.8 202.2,95.5 202.5,100.0 C202.8,104.5 202.3,107.8 202.0,112.0 C201.7,116.2 200.9,120.2 200.5,125.0 C200.1,129.8 199.7,136.0 199.5,141.0 C199.3,146.0 199.5,150.5 199.5,155.0 C199.5,159.5 199.9,164.8 199.5,168.0 C199.1,171.2 198.1,172.7 197.0,174.0 C195.9,175.3 194.0,174.7 193.0,176.0 C192.0,177.3 191.3,179.3 191.0,182.0 C190.7,184.7 190.7,189.2 191.0,192.0 C191.3,194.8 192.4,197.2 193.0,199.0 C193.6,200.8 194.7,201.3 194.8,203.0 C194.9,204.7 194.3,207.3 193.5,209.0 C192.7,210.7 191.2,212.2 190.0,213.0 C188.8,213.8 187.7,214.2 186.5,214.0 C185.3,213.8 183.7,213.5 183.0,212.0 C182.3,210.5 182.4,208.7 182.3,205.0 C182.2,201.3 182.4,195.0 182.5,190.0 C182.6,185.0 182.8,180.0 183.0,175.0 C183.2,170.0 183.8,165.7 184.0,160.0 C184.2,154.3 183.8,146.8 184.2,141.0 C184.6,135.2 185.5,130.2 186.2,125.0 C186.9,119.8 187.8,115.0 188.5,110.0 C189.2,105.0 190.0,99.2 190.3,95.0 C190.6,90.8 190.4,88.2 190.5,85.0 C190.6,81.8 190.5,78.5 191.0,76.0 C191.5,73.5 192.6,70.7 193.5,70.0Z" fill="#f8a018" stroke="#f8a018" stroke-width="3.2" stroke-linejoin="round"/>
<path d="M73.5,57.5 C74.0,57.5 74.7,58.2 75.0,60.0 C75.3,61.8 75.5,63.8 75.5,68.0 C75.5,72.2 74.9,79.7 74.8,85.0 C74.7,90.3 74.7,95.8 74.7,100.0 C74.7,104.2 74.9,107.0 74.7,110.0 C74.5,113.0 74.1,115.3 73.5,118.0 C72.9,120.7 71.5,122.2 71.0,126.0 C70.5,129.8 70.6,134.5 70.6,141.0 C70.5,147.5 70.9,157.7 70.7,165.0 C70.5,172.3 70.0,178.3 69.6,185.0 C69.2,191.7 68.8,200.3 68.2,205.0 C67.6,209.7 67.0,211.1 66.0,213.0 C65.0,214.9 63.7,216.5 62.5,216.5 C61.3,216.5 60.1,214.9 59.0,213.0 C57.9,211.1 56.8,208.8 56.0,205.0 C55.2,201.2 54.4,195.0 54.3,190.0 C54.2,185.0 55.0,179.2 55.5,175.0 C56.0,170.8 56.8,170.7 57.4,165.0 C58.0,159.3 58.9,147.2 59.4,141.0 C59.9,134.8 60.0,131.5 60.2,128.0 C60.4,124.5 60.3,122.0 60.8,120.0 C61.3,118.0 62.0,117.0 63.0,116.0 C64.0,115.0 65.6,115.3 66.5,114.0 C67.4,112.7 68.0,110.3 68.3,108.0 C68.6,105.7 68.2,103.8 68.6,100.0 C69.0,96.2 70.1,90.3 70.6,85.0 C71.1,79.7 71.3,72.2 71.5,68.0 C71.7,63.8 71.7,61.8 72.0,60.0 C72.3,58.2 73.0,57.5 73.5,57.5Z" fill="#f01808" stroke="#f01808" stroke-width="1.2" stroke-linejoin="round"/>
<path d="M98.3,99.5 C98.8,99.3 100.1,98.7 100.8,99.0 C101.5,99.3 102.0,100.6 102.5,101.5 C103.0,102.4 103.4,103.6 104.0,104.5 C104.6,105.4 105.2,106.2 106.0,107.0 C106.8,107.8 107.7,108.8 108.5,109.5 C109.3,110.2 110.2,110.5 111.0,111.0 C111.8,111.5 112.8,111.7 113.5,112.5 C114.2,113.3 114.8,114.2 115.0,116.0 C115.2,117.8 115.0,120.7 114.8,123.0 C114.6,125.3 114.1,127.0 113.8,130.0 C113.5,133.0 112.7,136.0 113.0,141.0 C113.3,146.0 115.4,155.2 115.8,160.0 C116.2,164.8 116.1,165.8 115.5,170.0 C114.9,174.2 113.2,180.0 112.4,185.0 C111.6,190.0 111.2,195.8 110.5,200.0 C109.8,204.2 109.0,207.6 108.0,210.0 C107.0,212.4 105.7,213.6 104.5,214.5 C103.3,215.4 102.1,215.9 101.0,215.5 C99.9,215.1 98.8,213.8 98.0,212.0 C97.2,210.2 96.6,208.7 96.2,205.0 C95.8,201.3 95.6,195.0 95.8,190.0 C96.0,185.0 97.0,180.0 97.4,175.0 C97.8,170.0 98.0,165.7 98.1,160.0 C98.2,154.3 98.0,146.8 98.0,141.0 C98.0,135.2 97.9,130.2 97.8,125.0 C97.7,119.8 97.5,114.2 97.4,110.0 C97.4,105.8 97.3,101.8 97.5,100.0 C97.7,98.2 97.8,99.7 98.3,99.5Z" fill="#f01808" stroke="#f01808" stroke-width="1.2" stroke-linejoin="round"/>
<path d="M154.0,73.0 C155.0,72.7 156.2,74.0 157.0,75.0 C157.8,76.0 158.5,77.3 159.0,79.0 C159.5,80.7 159.7,80.7 159.8,85.0 C159.9,89.3 160.2,100.0 159.8,105.0 C159.4,110.0 158.2,111.7 157.5,115.0 C156.8,118.3 156.3,122.0 155.6,125.0 C154.9,128.0 154.0,130.3 153.5,133.0 C153.0,135.7 152.7,137.3 152.6,141.0 C152.5,144.7 152.8,150.2 153.0,155.0 C153.2,159.8 153.7,165.0 153.8,170.0 C153.9,175.0 153.8,179.2 153.6,185.0 C153.4,190.8 153.2,200.5 152.6,205.0 C152.0,209.5 151.2,210.2 150.0,212.0 C148.8,213.8 147.0,215.3 145.5,215.5 C144.0,215.7 142.2,214.8 141.0,213.0 C139.8,211.2 138.6,208.0 138.3,205.0 C138.0,202.0 138.7,198.3 139.0,195.0 C139.3,191.7 139.7,189.2 140.0,185.0 C140.3,180.8 140.8,174.2 141.0,170.0 C141.2,165.8 141.7,163.3 141.5,160.0 C141.3,156.7 140.2,153.2 140.0,150.0 C139.8,146.8 139.6,145.2 140.0,141.0 C140.4,136.8 141.6,129.8 142.4,125.0 C143.2,120.2 144.3,115.3 145.0,112.0 C145.7,108.7 146.0,107.8 146.5,105.0 C147.0,102.2 147.5,98.3 148.0,95.0 C148.5,91.7 149.0,88.0 149.5,85.0 C150.0,82.0 150.2,79.0 151.0,77.0 C151.8,75.0 153.0,73.3 154.0,73.0Z" fill="#f01808" stroke="#f01808" stroke-width="1.2" stroke-linejoin="round"/>
<path d="M193.5,70.0 C194.4,69.3 195.6,70.8 196.5,72.0 C197.4,73.2 198.3,74.8 199.0,77.0 C199.7,79.2 199.9,81.2 200.5,85.0 C201.1,88.8 202.2,95.5 202.5,100.0 C202.8,104.5 202.3,107.8 202.0,112.0 C201.7,116.2 200.9,120.2 200.5,125.0 C200.1,129.8 199.7,136.0 199.5,141.0 C199.3,146.0 199.5,150.5 199.5,155.0 C199.5,159.5 199.9,164.8 199.5,168.0 C199.1,171.2 198.1,172.7 197.0,174.0 C195.9,175.3 194.0,174.7 193.0,176.0 C192.0,177.3 191.3,179.3 191.0,182.0 C190.7,184.7 190.7,189.2 191.0,192.0 C191.3,194.8 192.4,197.2 193.0,199.0 C193.6,200.8 194.7,201.3 194.8,203.0 C194.9,204.7 194.3,207.3 193.5,209.0 C192.7,210.7 191.2,212.2 190.0,213.0 C188.8,213.8 187.7,214.2 186.5,214.0 C185.3,213.8 183.7,213.5 183.0,212.0 C182.3,210.5 182.4,208.7 182.3,205.0 C182.2,201.3 182.4,195.0 182.5,190.0 C182.6,185.0 182.8,180.0 183.0,175.0 C183.2,170.0 183.8,165.7 184.0,160.0 C184.2,154.3 183.8,146.8 184.2,141.0 C184.6,135.2 185.5,130.2 186.2,125.0 C186.9,119.8 187.8,115.0 188.5,110.0 C189.2,105.0 190.0,99.2 190.3,95.0 C190.6,90.8 190.4,88.2 190.5,85.0 C190.6,81.8 190.5,78.5 191.0,76.0 C191.5,73.5 192.6,70.7 193.5,70.0Z" fill="#f01808" stroke="#f01808" stroke-width="1.2" stroke-linejoin="round"/>
<path d="M73.5,57.5 C74.0,57.5 74.7,58.2 75.0,60.0 C75.3,61.8 75.5,63.8 75.5,68.0 C75.5,72.2 74.9,79.7 74.8,85.0 C74.7,90.3 74.7,95.8 74.7,100.0 C74.7,104.2 74.9,107.0 74.7,110.0 C74.5,113.0 74.1,115.3 73.5,118.0 C72.9,120.7 71.5,122.2 71.0,126.0 C70.5,129.8 70.6,134.5 70.6,141.0 C70.5,147.5 70.9,157.7 70.7,165.0 C70.5,172.3 70.0,178.3 69.6,185.0 C69.2,191.7 68.8,200.3 68.2,205.0 C67.6,209.7 67.0,211.1 66.0,213.0 C65.0,214.9 63.7,216.5 62.5,216.5 C61.3,216.5 60.1,214.9 59.0,213.0 C57.9,211.1 56.8,208.8 56.0,205.0 C55.2,201.2 54.4,195.0 54.3,190.0 C54.2,185.0 55.0,179.2 55.5,175.0 C56.0,170.8 56.8,170.7 57.4,165.0 C58.0,159.3 58.9,147.2 59.4,141.0 C59.9,134.8 60.0,131.5 60.2,128.0 C60.4,124.5 60.3,122.0 60.8,120.0 C61.3,118.0 62.0,117.0 63.0,116.0 C64.0,115.0 65.6,115.3 66.5,114.0 C67.4,112.7 68.0,110.3 68.3,108.0 C68.6,105.7 68.2,103.8 68.6,100.0 C69.0,96.2 70.1,90.3 70.6,85.0 C71.1,79.7 71.3,72.2 71.5,68.0 C71.7,63.8 71.7,61.8 72.0,60.0 C72.3,58.2 73.0,57.5 73.5,57.5Z" fill="#f01808"/>
<path d="M98.3,99.5 C98.8,99.3 100.1,98.7 100.8,99.0 C101.5,99.3 102.0,100.6 102.5,101.5 C103.0,102.4 103.4,103.6 104.0,104.5 C104.6,105.4 105.2,106.2 106.0,107.0 C106.8,107.8 107.7,108.8 108.5,109.5 C109.3,110.2 110.2,110.5 111.0,111.0 C111.8,111.5 112.8,111.7 113.5,112.5 C114.2,113.3 114.8,114.2 115.0,116.0 C115.2,117.8 115.0,120.7 114.8,123.0 C114.6,125.3 114.1,127.0 113.8,130.0 C113.5,133.0 112.7,136.0 113.0,141.0 C113.3,146.0 115.4,155.2 115.8,160.0 C116.2,164.8 116.1,165.8 115.5,170.0 C114.9,174.2 113.2,180.0 112.4,185.0 C111.6,190.0 111.2,195.8 110.5,200.0 C109.8,204.2 109.0,207.6 108.0,210.0 C107.0,212.4 105.7,213.6 104.5,214.5 C103.3,215.4 102.1,215.9 101.0,215.5 C99.9,215.1 98.8,213.8 98.0,212.0 C97.2,210.2 96.6,208.7 96.2,205.0 C95.8,201.3 95.6,195.0 95.8,190.0 C96.0,185.0 97.0,180.0 97.4,175.0 C97.8,170.0 98.0,165.7 98.1,160.0 C98.2,154.3 98.0,146.8 98.0,141.0 C98.0,135.2 97.9,130.2 97.8,125.0 C97.7,119.8 97.5,114.2 97.4,110.0 C97.4,105.8 97.3,101.8 97.5,100.0 C97.7,98.2 97.8,99.7 98.3,99.5Z" fill="#f01808"/>
<path d="M154.0,73.0 C155.0,72.7 156.2,74.0 157.0,75.0 C157.8,76.0 158.5,77.3 159.0,79.0 C159.5,80.7 159.7,80.7 159.8,85.0 C159.9,89.3 160.2,100.0 159.8,105.0 C159.4,110.0 158.2,111.7 157.5,115.0 C156.8,118.3 156.3,122.0 155.6,125.0 C154.9,128.0 154.0,130.3 153.5,133.0 C153.0,135.7 152.7,137.3 152.6,141.0 C152.5,144.7 152.8,150.2 153.0,155.0 C153.2,159.8 153.7,165.0 153.8,170.0 C153.9,175.0 153.8,179.2 153.6,185.0 C153.4,190.8 153.2,200.5 152.6,205.0 C152.0,209.5 151.2,210.2 150.0,212.0 C148.8,213.8 147.0,215.3 145.5,215.5 C144.0,215.7 142.2,214.8 141.0,213.0 C139.8,211.2 138.6,208.0 138.3,205.0 C138.0,202.0 138.7,198.3 139.0,195.0 C139.3,191.7 139.7,189.2 140.0,185.0 C140.3,180.8 140.8,174.2 141.0,170.0 C141.2,165.8 141.7,163.3 141.5,160.0 C141.3,156.7 140.2,153.2 140.0,150.0 C139.8,146.8 139.6,145.2 140.0,141.0 C140.4,136.8 141.6,129.8 142.4,125.0 C143.2,120.2 144.3,115.3 145.0,112.0 C145.7,108.7 146.0,107.8 146.5,105.0 C147.0,102.2 147.5,98.3 148.0,95.0 C148.5,91.7 149.0,88.0 149.5,85.0 C150.0,82.0 150.2,79.0 151.0,77.0 C151.8,75.0 153.0,73.3 154.0,73.0Z" fill="#f01808"/>
<path d="M193.5,70.0 C194.4,69.3 195.6,70.8 196.5,72.0 C197.4,73.2 198.3,74.8 199.0,77.0 C199.7,79.2 199.9,81.2 200.5,85.0 C201.1,88.8 202.2,95.5 202.5,100.0 C202.8,104.5 202.3,107.8 202.0,112.0 C201.7,116.2 200.9,120.2 200.5,125.0 C200.1,129.8 199.7,136.0 199.5,141.0 C199.3,146.0 199.5,150.5 199.5,155.0 C199.5,159.5 199.9,164.8 199.5,168.0 C199.1,171.2 198.1,172.7 197.0,174.0 C195.9,175.3 194.0,174.7 193.0,176.0 C192.0,177.3 191.3,179.3 191.0,182.0 C190.7,184.7 190.7,189.2 191.0,192.0 C191.3,194.8 192.4,197.2 193.0,199.0 C193.6,200.8 194.7,201.3 194.8,203.0 C194.9,204.7 194.3,207.3 193.5,209.0 C192.7,210.7 191.2,212.2 190.0,213.0 C188.8,213.8 187.7,214.2 186.5,214.0 C185.3,213.8 183.7,213.5 183.0,212.0 C182.3,210.5 182.4,208.7 182.3,205.0 C182.2,201.3 182.4,195.0 182.5,190.0 C182.6,185.0 182.8,180.0 183.0,175.0 C183.2,170.0 183.8,165.7 184.0,160.0 C184.2,154.3 183.8,146.8 184.2,141.0 C184.6,135.2 185.5,130.2 186.2,125.0 C186.9,119.8 187.8,115.0 188.5,110.0 C189.2,105.0 190.0,99.2 190.3,95.0 C190.6,90.8 190.4,88.2 190.5,85.0 C190.6,81.8 190.5,78.5 191.0,76.0 C191.5,73.5 192.6,70.7 193.5,70.0Z" fill="#f01808"/>
<path d="M112.0,94.0 C112.5,93.3 114.2,94.0 115.0,95.0 C115.8,96.0 116.5,97.8 116.8,100.0 C117.1,102.2 117.1,105.8 117.0,108.0 C116.9,110.2 116.6,112.2 116.0,113.0 C115.4,113.8 114.1,113.8 113.5,112.5 C112.9,111.2 112.8,107.2 112.5,105.0 C112.2,102.8 111.9,100.8 111.8,99.0 C111.7,97.2 111.5,94.7 112.0,94.0Z" fill="#f8b420"/>
<path d="M115.0,60.0 C115.4,59.7 116.1,61.7 116.3,63.0 C116.5,64.3 116.3,67.0 116.0,68.0 C115.7,69.0 114.9,69.5 114.5,69.0 C114.1,68.5 113.7,66.5 113.8,65.0 C113.9,63.5 114.6,60.3 115.0,60.0Z" fill="#f6b020"/>
<path d="M107.8,79.5 C108.5,79.5 109.6,80.9 110.0,82.0 C110.4,83.1 110.6,84.9 110.2,86.0 C109.8,87.1 108.6,88.5 107.8,88.5 C107.0,88.5 105.7,87.1 105.3,86.0 C104.9,84.9 105.1,83.1 105.5,82.0 C105.9,80.9 107.0,79.5 107.8,79.5Z" fill="#f6b020"/>
<path d="M194.0,178.0 C194.7,176.7 196.4,178.3 197.0,180.0 C197.6,181.7 197.6,185.3 197.5,188.0 C197.4,190.7 197.1,194.5 196.5,196.0 C195.9,197.5 194.6,198.3 194.0,197.0 C193.4,195.7 193.0,191.2 193.0,188.0 C193.0,184.8 193.3,179.3 194.0,178.0Z" fill="#c8ea30"/>
</g></g>
<g class="t" text-anchor="end">
<text x="34.5" y="28.8">50</text>
<text x="34.5" y="69.2">40</text>
<text x="34.5" y="109.6">30</text>
<text x="34.5" y="150">20</text>
<text x="34.5" y="190.4">10</text>
<text x="34.5" y="231">0</text>
</g>
<g class="t" text-anchor="middle">
<text x="40" y="241">0</text>
<text x="71" y="241">5</text>
<text x="114.7" y="241">10</text>
<text x="155.5" y="241">15</text>
<text x="199.2" y="241">20</text>
</g>
<path d="M34.6,227.8H40M38.7,225V231" stroke="#f02050" stroke-width="1" fill="none"/>
<text class="ax" x="126.4" y="254.6" text-anchor="middle">Position (µm)</text>
<text class="ay" transform="translate(11.8,122.4) rotate(-90)" text-anchor="middle">Position (µm)</text>

<g fill="none" stroke="#000" stroke-width="1.45" stroke-linejoin="round" stroke-linecap="round">
<polyline points="228.5,21.3 228.5,227.6 382.8,227.6 382.8,225.8"/>
<path d="M262.3,227.6v-1.6M298.2,227.6v-1.6M333.6,227.6v-1.6M366.6,227.6v-1.6" stroke-width="1"/>
<path d="M237.1,27.7 C239.5,27.7 245.8,27.5 249.0,27.7 C252.2,27.9 251.2,28.8 253.0,28.8 C254.8,28.8 255.7,28.0 258.0,27.5 C260.3,27.0 261.9,26.0 264.3,26.1 C266.7,26.2 267.9,27.3 270.0,28.0 C272.1,28.7 272.0,29.1 275.0,29.4 C278.0,29.7 281.5,30.3 285.0,29.4 C288.5,28.5 289.6,25.2 292.6,25.0 C295.6,24.8 296.2,27.7 299.8,28.4 C303.4,29.1 307.6,28.2 310.4,28.4 C313.2,28.6 311.5,29.2 314.0,29.4 C316.5,29.6 318.9,30.2 322.8,29.4 C326.7,28.6 329.6,25.4 333.4,25.2 C337.2,25.0 337.4,27.9 342.0,28.4 C346.6,28.9 351.4,27.7 356.4,27.5 C361.4,27.3 363.3,27.2 367.0,27.5 C370.7,27.8 373.4,28.9 375.0,29.2"/>
<path d="M237.3,63.8 C238.7,64.2 241.6,65.3 244.4,65.7 C247.2,66.1 248.4,66.2 251.1,65.7 C253.8,65.2 255.1,64.3 257.8,63.4 C260.5,62.5 261.8,60.9 264.5,61.1 C267.2,61.3 267.8,63.9 271.3,64.6 C274.8,65.3 278.9,64.8 281.8,64.6 C284.7,64.4 283.8,64.0 285.7,63.8 C287.6,63.6 288.7,64.1 291.4,63.6 C294.1,63.1 296.2,60.9 299.1,61.1 C302.0,61.3 302.2,63.7 305.8,64.4 C309.4,65.1 314.1,65.0 317.3,64.8 C320.5,64.6 319.7,63.9 322.0,63.4 C324.3,62.9 325.1,62.0 328.8,62.5 C332.5,63.0 337.2,65.1 340.3,65.7 C343.4,66.3 342.0,66.0 344.1,65.7 C346.2,65.4 348.2,64.5 350.9,64.0 C353.6,63.5 355.1,63.3 357.6,63.0 C360.1,62.7 360.8,62.4 363.3,62.3 C365.8,62.2 367.7,62.0 370.0,62.5 C372.3,63.0 373.9,64.5 374.9,65.0"/>
<path d="M237.3,101.8 C238.5,102.1 241.2,103.4 243.4,103.4 C245.6,103.4 245.1,102.4 248.2,101.8 C251.3,101.2 255.5,101.3 258.8,100.5 C262.1,99.7 261.5,97.1 264.5,97.6 C267.5,98.1 270.7,102.2 273.8,103.0 C276.9,103.8 277.5,102.2 279.9,101.4 C282.3,100.6 283.4,99.4 285.7,98.9 C288.0,98.4 289.5,98.7 291.4,98.9 C293.3,99.1 293.0,99.7 295.3,99.9 C297.6,100.1 299.5,99.4 302.9,99.9 C306.3,100.4 307.1,102.9 312.5,102.4 C317.9,101.9 325.6,98.2 329.8,97.2 C334.0,96.2 330.7,96.4 333.6,97.6 C336.5,98.8 340.1,102.3 344.1,103.0 C348.1,103.7 350.0,102.2 353.7,101.0 C357.4,99.8 359.5,98.0 362.4,97.2 C365.3,96.4 365.6,96.0 368.1,97.2 C370.6,98.4 373.5,101.8 374.9,103.0"/>
<path d="M237.3,140.7 C238.7,140.9 242.0,142.2 244.4,141.9 C246.8,141.6 246.5,140.7 249.2,139.4 C251.9,138.1 254.9,136.1 257.8,135.6 C260.7,135.1 260.7,135.6 263.6,136.9 C266.5,138.2 268.6,141.8 272.2,141.9 C275.8,142.0 278.3,138.8 281.8,137.5 C285.3,136.2 286.6,135.5 289.5,135.2 C292.4,134.9 293.7,135.4 296.2,136.1 C298.7,136.8 299.3,137.6 302.0,138.8 C304.7,140.0 306.2,142.5 309.6,141.9 C313.0,141.3 315.9,136.8 319.2,135.6 C322.5,134.4 320.9,134.8 325.9,136.1 C330.9,137.4 337.8,142.1 344.1,141.9 C350.4,141.7 353.2,136.4 357.6,135.2 C362.0,134.0 362.7,134.9 366.2,136.1 C369.7,137.3 373.2,140.3 374.9,141.3"/>
<path d="M237.3,183.2 C238.7,183.2 241.8,184.3 244.4,183.2 C247.0,182.1 247.7,179.4 250.2,177.5 C252.7,175.6 252.9,172.5 256.9,173.6 C260.9,174.7 266.5,181.3 270.3,183.2 C274.1,185.1 273.0,185.1 276.1,183.2 C279.2,181.3 282.8,175.5 285.7,173.6 C288.6,171.7 288.0,172.8 290.5,173.6 C293.0,174.4 294.7,175.6 298.1,177.5 C301.5,179.4 304.6,182.4 307.7,183.2 C310.8,184.0 311.3,182.4 313.4,181.3 C315.5,180.2 315.7,178.8 318.2,177.5 C320.7,176.2 322.2,173.6 325.9,174.6 C329.6,175.6 332.5,181.1 336.5,182.7 C340.5,184.3 342.5,183.9 346.1,182.7 C349.7,181.5 352.2,177.7 354.7,176.5 C357.2,175.3 357.2,176.1 358.5,176.5 C359.8,176.9 359.3,178.0 361.4,178.4 C363.5,178.8 366.4,177.4 369.1,178.4 C371.8,179.4 373.7,182.2 374.9,183.2"/>
<path d="M237.3,223.2 C238.4,223.2 241.1,224.0 243.0,223.2 C244.9,222.4 245.3,220.6 247.0,219.0 C248.7,217.4 249.6,216.0 251.7,215.2 C253.8,214.4 255.3,214.4 257.4,215.2 C259.5,216.0 259.9,217.0 262.0,219.0 C264.1,221.0 265.8,223.9 268.0,225.1 C270.2,226.3 270.9,225.6 272.8,225.1 C274.7,224.6 276.0,223.6 277.6,222.4 C279.2,221.2 279.3,220.5 281.0,219.0 C282.7,217.5 284.0,215.0 286.2,214.8 C288.4,214.6 289.5,216.4 292.0,218.0 C294.5,219.6 296.0,221.3 298.6,223.0 C301.2,224.7 302.5,226.1 305.0,226.3 C307.5,226.5 308.8,225.6 311.0,224.0 C313.2,222.4 314.2,220.1 316.0,218.5 C317.8,216.9 318.2,215.8 320.2,216.0 C322.2,216.2 323.4,217.7 326.0,219.5 C328.6,221.3 330.3,223.4 333.0,225.0 C335.7,226.6 337.3,227.6 339.7,227.4 C342.1,227.2 342.9,225.7 345.0,224.0 C347.1,222.3 348.0,220.4 350.0,219.0 C352.0,217.6 353.2,217.0 354.8,217.2 C356.4,217.4 356.7,219.0 358.0,220.0 C359.3,221.0 359.6,221.6 361.3,222.0 C363.0,222.4 365.0,221.6 366.7,222.0 C368.4,222.4 368.5,222.9 370.0,224.0 C371.5,225.1 373.4,226.7 374.2,227.4"/>
</g>
<text class="ax" transform="translate(220.8,111.4) rotate(-90)" text-anchor="middle">Intensity (a.u.)</text>
<g class="t">
<text x="387" y="32" style="font-size:10.6px">50<tspan font-weight="normal"> µm</tspan></text>
<text x="386.5" y="70">30</text>
<text x="386.5" y="108.5">40</text>
<text x="386.5" y="147">20</text>
<text x="386.5" y="185.5">10</text>
<text x="387.5" y="223.5">1</text>
</g>
<g class="t" text-anchor="middle">
<text x="229.3" y="241">0</text>
<text x="263.7" y="241">5</text>
<text x="300.3" y="241">10</text>
<text x="334.6" y="241">15</text>
<text x="367.8" y="241">20</text>
</g>
<text class="ax" x="301" y="254.6" text-anchor="middle">Position (µm)</text>
<text x="215.3" y="285.3" text-anchor="middle" style="font-size:15px">(a)</text>

<!-- ===== Panel (b) ===== -->
<rect x="34" y="321.5" width="159" height="2.1" fill="url(#jetB)"/>
<g class="cb">
<text x="31.2" y="330.3" text-anchor="middle">2.8</text>
<text x="71.1" y="330.3" text-anchor="middle">2.9</text>
<text x="113" y="330.3" text-anchor="middle">3.0</text>
<text x="153.3" y="330.3" text-anchor="middle">3.1</text>
<text x="196" y="330.3" text-anchor="middle">3.2</text>
</g>
<g clip-path="url(#clipB)"><g filter="url(#bl)">

<rect x="27" y="330" width="180" height="217" fill="#6cee14"/>
<path d="M28.0,330.0 C31.1,293.7 43.4,327.5 46.5,330.0 C49.6,332.5 46.8,340.3 46.8,345.0 C46.8,349.7 46.6,354.3 46.8,358.0 C47.0,361.7 47.5,360.3 48.0,367.0 C48.5,373.7 49.3,388.3 49.8,398.0 C50.2,407.7 50.7,416.3 50.7,425.0 C50.7,433.7 49.9,443.2 49.7,450.0 C49.5,456.8 49.4,456.8 49.7,466.0 C50.0,475.2 51.0,494.3 51.7,505.0 C52.4,515.7 53.3,522.8 53.7,530.0 C54.1,537.2 58.3,545.0 54.0,548.0 C49.7,551.0 32.3,584.3 28.0,548.0 C23.7,511.7 24.9,366.3 28.0,330.0Z" fill="#78f0f0" stroke="#78f0f0" stroke-width="2" stroke-linejoin="round"/>
<path d="M74.0,341.5 C74.8,340.9 75.7,340.4 76.5,340.5 C77.3,340.6 78.3,341.0 79.0,342.0 C79.7,343.0 80.1,346.5 80.7,346.5 C81.3,346.5 81.8,343.0 82.5,342.0 C83.2,341.0 84.2,340.6 85.0,340.5 C85.8,340.4 86.8,340.6 87.5,341.5 C88.2,342.4 88.7,343.2 89.0,346.0 C89.3,348.8 89.2,353.2 89.5,358.0 C89.8,362.8 90.2,368.3 90.5,375.0 C90.8,381.7 91.5,390.5 91.5,398.0 C91.5,405.5 91.0,413.8 90.5,420.0 C90.0,426.2 88.6,430.0 88.5,435.0 C88.4,440.0 89.6,444.8 90.0,450.0 C90.4,455.2 90.5,456.8 91.0,466.0 C91.5,475.2 92.4,494.3 93.0,505.0 C93.6,515.7 94.1,522.8 94.5,530.0 C94.9,537.2 100.6,545.0 95.5,548.0 C90.4,551.0 69.1,551.0 64.0,548.0 C58.9,545.0 64.4,537.2 65.0,530.0 C65.6,522.8 66.8,515.7 67.4,505.0 C68.0,494.3 68.4,479.3 68.4,466.0 C68.4,452.7 67.7,436.3 67.4,425.0 C67.1,413.7 66.5,406.0 66.5,398.0 C66.5,390.0 67.0,383.3 67.4,377.0 C67.8,370.7 68.3,364.5 68.8,360.0 C69.3,355.5 70.0,352.7 70.5,350.0 C71.0,347.3 71.4,345.4 72.0,344.0 C72.6,342.6 73.2,342.1 74.0,341.5Z" fill="#78f0f0" stroke="#78f0f0" stroke-width="2" stroke-linejoin="round"/>
<path d="M113.0,346.0 C113.8,344.8 114.8,343.8 116.0,343.0 C117.2,342.2 118.7,341.7 120.0,341.5 C121.3,341.3 122.8,341.4 124.0,341.8 C125.2,342.2 126.7,342.6 127.5,344.0 C128.3,345.4 128.4,348.0 129.0,350.0 C129.6,352.0 130.4,354.0 131.0,356.0 C131.6,358.0 131.9,358.5 132.5,362.0 C133.1,365.5 134.5,371.0 134.7,377.0 C134.9,383.0 133.7,388.3 133.7,398.0 C133.7,407.7 134.7,424.7 134.7,435.0 C134.7,445.3 133.8,452.5 133.7,460.0 C133.6,467.5 133.7,472.5 134.0,480.0 C134.3,487.5 135.2,496.7 135.7,505.0 C136.2,513.3 136.7,522.8 137.0,530.0 C137.3,537.2 142.8,545.0 137.6,548.0 C132.3,551.0 110.7,551.0 105.5,548.0 C100.3,545.0 106.0,537.2 106.5,530.0 C107.0,522.8 108.1,515.7 108.8,505.0 C109.5,494.3 110.5,478.5 110.7,466.0 C110.9,453.5 109.7,441.3 109.7,430.0 C109.7,418.7 110.3,409.7 110.5,398.0 C110.7,386.3 110.6,368.0 110.7,360.0 C110.8,352.0 110.6,352.3 111.0,350.0 C111.4,347.7 112.2,347.2 113.0,346.0Z" fill="#78f0f0" stroke="#78f0f0" stroke-width="2" stroke-linejoin="round"/>
<path d="M167.0,339.0 C168.3,338.2 169.1,338.8 170.0,339.5 C170.9,340.2 171.8,341.2 172.5,343.0 C173.2,344.8 174.1,347.2 174.5,350.0 C174.9,352.8 174.9,351.7 175.0,360.0 C175.1,368.3 175.0,386.7 175.0,400.0 C175.0,413.3 175.2,429.0 175.0,440.0 C174.8,451.0 173.6,457.7 173.5,466.0 C173.4,474.3 174.2,483.5 174.5,490.0 C174.8,496.5 174.9,498.3 175.5,505.0 C176.1,511.7 177.4,522.8 178.0,530.0 C178.6,537.2 184.1,545.0 179.0,548.0 C173.9,551.0 152.5,551.0 147.5,548.0 C142.5,545.0 148.2,537.2 149.0,530.0 C149.8,522.8 151.4,511.7 152.4,505.0 C153.4,498.3 154.3,495.0 155.0,490.0 C155.7,485.0 156.2,480.0 156.3,475.0 C156.4,470.0 156.1,465.0 155.5,460.0 C154.9,455.0 153.5,449.2 153.0,445.0 C152.5,440.8 152.7,442.5 152.4,435.0 C152.1,427.5 151.6,411.5 151.4,400.0 C151.2,388.5 151.0,373.3 151.4,366.0 C151.8,358.7 152.9,358.7 154.0,356.0 C155.1,353.3 156.7,352.0 158.0,350.0 C159.3,348.0 160.5,345.8 162.0,344.0 C163.5,342.2 165.7,339.8 167.0,339.0Z" fill="#78f0f0" stroke="#78f0f0" stroke-width="2" stroke-linejoin="round"/>
<path d="M194.5,356.0 C195.1,355.5 194.9,353.0 196.5,352.0 C198.1,351.0 202.8,317.3 204.0,350.0 C205.2,382.7 206.8,515.0 204.0,548.0 C201.2,581.0 190.0,551.0 187.5,548.0 C185.0,545.0 188.3,537.2 189.0,530.0 C189.7,522.8 191.1,512.5 191.8,505.0 C192.6,497.5 193.0,491.5 193.5,485.0 C194.0,478.5 194.7,471.8 194.7,466.0 C194.7,460.2 193.8,457.7 193.5,450.0 C193.2,442.3 192.8,431.7 192.7,420.0 C192.6,408.3 192.7,390.8 192.7,380.0 C192.7,369.2 192.4,359.0 192.7,355.0 C193.0,351.0 193.9,356.5 194.5,356.0Z" fill="#78f0f0" stroke="#78f0f0" stroke-width="2" stroke-linejoin="round"/>
<path d="M28.0,330.0 C31.1,293.7 43.4,327.5 46.5,330.0 C49.6,332.5 46.8,340.3 46.8,345.0 C46.8,349.7 46.6,354.3 46.8,358.0 C47.0,361.7 47.5,360.3 48.0,367.0 C48.5,373.7 49.3,388.3 49.8,398.0 C50.2,407.7 50.7,416.3 50.7,425.0 C50.7,433.7 49.9,443.2 49.7,450.0 C49.5,456.8 49.4,456.8 49.7,466.0 C50.0,475.2 51.0,494.3 51.7,505.0 C52.4,515.7 53.3,522.8 53.7,530.0 C54.1,537.2 58.3,545.0 54.0,548.0 C49.7,551.0 32.3,584.3 28.0,548.0 C23.7,511.7 24.9,366.3 28.0,330.0Z" fill="#2652ec"/>
<path d="M74.0,341.5 C74.8,340.9 75.7,340.4 76.5,340.5 C77.3,340.6 78.3,341.0 79.0,342.0 C79.7,343.0 80.1,346.5 80.7,346.5 C81.3,346.5 81.8,343.0 82.5,342.0 C83.2,341.0 84.2,340.6 85.0,340.5 C85.8,340.4 86.8,340.6 87.5,341.5 C88.2,342.4 88.7,343.2 89.0,346.0 C89.3,348.8 89.2,353.2 89.5,358.0 C89.8,362.8 90.2,368.3 90.5,375.0 C90.8,381.7 91.5,390.5 91.5,398.0 C91.5,405.5 91.0,413.8 90.5,420.0 C90.0,426.2 88.6,430.0 88.5,435.0 C88.4,440.0 89.6,444.8 90.0,450.0 C90.4,455.2 90.5,456.8 91.0,466.0 C91.5,475.2 92.4,494.3 93.0,505.0 C93.6,515.7 94.1,522.8 94.5,530.0 C94.9,537.2 100.6,545.0 95.5,548.0 C90.4,551.0 69.1,551.0 64.0,548.0 C58.9,545.0 64.4,537.2 65.0,530.0 C65.6,522.8 66.8,515.7 67.4,505.0 C68.0,494.3 68.4,479.3 68.4,466.0 C68.4,452.7 67.7,436.3 67.4,425.0 C67.1,413.7 66.5,406.0 66.5,398.0 C66.5,390.0 67.0,383.3 67.4,377.0 C67.8,370.7 68.3,364.5 68.8,360.0 C69.3,355.5 70.0,352.7 70.5,350.0 C71.0,347.3 71.4,345.4 72.0,344.0 C72.6,342.6 73.2,342.1 74.0,341.5Z" fill="#2652ec"/>
<path d="M113.0,346.0 C113.8,344.8 114.8,343.8 116.0,343.0 C117.2,342.2 118.7,341.7 120.0,341.5 C121.3,341.3 122.8,341.4 124.0,341.8 C125.2,342.2 126.7,342.6 127.5,344.0 C128.3,345.4 128.4,348.0 129.0,350.0 C129.6,352.0 130.4,354.0 131.0,356.0 C131.6,358.0 131.9,358.5 132.5,362.0 C133.1,365.5 134.5,371.0 134.7,377.0 C134.9,383.0 133.7,388.3 133.7,398.0 C133.7,407.7 134.7,424.7 134.7,435.0 C134.7,445.3 133.8,452.5 133.7,460.0 C133.6,467.5 133.7,472.5 134.0,480.0 C134.3,487.5 135.2,496.7 135.7,505.0 C136.2,513.3 136.7,522.8 137.0,530.0 C137.3,537.2 142.8,545.0 137.6,548.0 C132.3,551.0 110.7,551.0 105.5,548.0 C100.3,545.0 106.0,537.2 106.5,530.0 C107.0,522.8 108.1,515.7 108.8,505.0 C109.5,494.3 110.5,478.5 110.7,466.0 C110.9,453.5 109.7,441.3 109.7,430.0 C109.7,418.7 110.3,409.7 110.5,398.0 C110.7,386.3 110.6,368.0 110.7,360.0 C110.8,352.0 110.6,352.3 111.0,350.0 C111.4,347.7 112.2,347.2 113.0,346.0Z" fill="#2652ec"/>
<path d="M167.0,339.0 C168.3,338.2 169.1,338.8 170.0,339.5 C170.9,340.2 171.8,341.2 172.5,343.0 C173.2,344.8 174.1,347.2 174.5,350.0 C174.9,352.8 174.9,351.7 175.0,360.0 C175.1,368.3 175.0,386.7 175.0,400.0 C175.0,413.3 175.2,429.0 175.0,440.0 C174.8,451.0 173.6,457.7 173.5,466.0 C173.4,474.3 174.2,483.5 174.5,490.0 C174.8,496.5 174.9,498.3 175.5,505.0 C176.1,511.7 177.4,522.8 178.0,530.0 C178.6,537.2 184.1,545.0 179.0,548.0 C173.9,551.0 152.5,551.0 147.5,548.0 C142.5,545.0 148.2,537.2 149.0,530.0 C149.8,522.8 151.4,511.7 152.4,505.0 C153.4,498.3 154.3,495.0 155.0,490.0 C155.7,485.0 156.2,480.0 156.3,475.0 C156.4,470.0 156.1,465.0 155.5,460.0 C154.9,455.0 153.5,449.2 153.0,445.0 C152.5,440.8 152.7,442.5 152.4,435.0 C152.1,427.5 151.6,411.5 151.4,400.0 C151.2,388.5 151.0,373.3 151.4,366.0 C151.8,358.7 152.9,358.7 154.0,356.0 C155.1,353.3 156.7,352.0 158.0,350.0 C159.3,348.0 160.5,345.8 162.0,344.0 C163.5,342.2 165.7,339.8 167.0,339.0Z" fill="#2652ec"/>
<path d="M194.5,356.0 C195.1,355.5 194.9,353.0 196.5,352.0 C198.1,351.0 202.8,317.3 204.0,350.0 C205.2,382.7 206.8,515.0 204.0,548.0 C201.2,581.0 190.0,551.0 187.5,548.0 C185.0,545.0 188.3,537.2 189.0,530.0 C189.7,522.8 191.1,512.5 191.8,505.0 C192.6,497.5 193.0,491.5 193.5,485.0 C194.0,478.5 194.7,471.8 194.7,466.0 C194.7,460.2 193.8,457.7 193.5,450.0 C193.2,442.3 192.8,431.7 192.7,420.0 C192.6,408.3 192.7,390.8 192.7,380.0 C192.7,369.2 192.4,359.0 192.7,355.0 C193.0,351.0 193.9,356.5 194.5,356.0Z" fill="#2652ec"/>
<path d="M39.5,334.0 C40.1,332.5 43.4,332.5 44.0,334.0 C44.6,335.5 43.4,340.9 43.0,343.0 C42.6,345.1 42.0,346.5 41.5,346.5 C41.0,346.5 40.5,345.1 40.2,343.0 C39.9,340.9 38.9,335.5 39.5,334.0Z" fill="#78f0f0"/>
<path d="M88.3,429.0 C88.6,427.0 90.0,428.8 90.5,430.0 C91.0,431.2 91.2,434.0 91.2,436.0 C91.2,438.0 91.0,441.0 90.5,442.0 C90.0,443.0 88.9,444.2 88.5,442.0 C88.1,439.8 88.0,431.0 88.3,429.0Z" fill="#78f0f0"/>
<path d="M139.4,380.0 C140.6,380.0 142.2,381.2 143.0,383.0 C143.8,384.8 144.0,388.3 144.0,391.0 C144.0,393.7 143.8,397.1 143.0,399.0 C142.2,400.9 140.6,402.5 139.4,402.5 C138.2,402.5 136.6,400.9 135.8,399.0 C135.0,397.1 134.8,393.7 134.8,391.0 C134.8,388.3 135.0,384.8 135.8,383.0 C136.6,381.2 138.2,380.0 139.4,380.0Z" fill="#78f0f0"/>
<path d="M139.4,385.0 C140.0,385.0 140.9,386.3 141.3,387.5 C141.7,388.7 142.0,390.5 142.0,392.0 C142.0,393.5 141.7,395.3 141.3,396.5 C140.9,397.7 140.0,399.0 139.4,399.0 C138.8,399.0 137.9,397.7 137.5,396.5 C137.1,395.3 136.8,393.5 136.8,392.0 C136.8,390.5 137.1,388.7 137.5,387.5 C137.9,386.3 138.8,385.0 139.4,385.0Z" fill="#2652ec"/>
<path d="M139.6,418.0 C140.2,418.0 141.2,421.3 141.5,425.0 C141.8,428.7 141.8,436.7 141.5,440.0 C141.2,443.3 140.2,445.0 139.6,445.0 C139.0,445.0 138.1,443.3 137.8,440.0 C137.5,436.7 137.5,428.7 137.8,425.0 C138.1,421.3 139.0,418.0 139.6,418.0Z" fill="#c0e830"/>
<path d="M183.0,334.0 C184.2,332.8 190.6,332.7 192.0,334.0 C193.4,335.3 191.9,339.3 191.5,342.0 C191.1,344.7 190.2,349.2 189.5,350.0 C188.8,350.8 187.8,348.5 187.0,347.0 C186.2,345.5 185.2,343.2 184.5,341.0 C183.8,338.8 181.8,335.2 183.0,334.0Z" fill="#c0e830"/>
<path d="M52.5,366.0 C53.0,365.5 54.2,367.3 54.5,369.0 C54.8,370.7 54.8,374.5 54.5,376.0 C54.2,377.5 53.0,378.7 52.5,378.0 C52.0,377.3 51.5,374.0 51.5,372.0 C51.5,370.0 52.0,366.5 52.5,366.0Z" fill="#c0e830"/>
<path d="M132.0,334.0 C135.3,332.7 149.7,332.5 153.0,334.0 C156.3,335.5 153.0,340.7 152.0,343.0 C151.0,345.3 148.8,346.8 147.0,348.0 C145.2,349.2 142.8,350.2 141.0,350.0 C139.2,349.8 137.3,348.3 136.0,347.0 C134.7,345.7 133.7,344.2 133.0,342.0 C132.3,339.8 128.7,335.3 132.0,334.0Z" fill="#f4ec20"/>
<path d="M53.0,334.0 C54.8,332.7 63.2,332.7 65.0,334.0 C66.8,335.3 64.7,339.7 64.0,342.0 C63.3,344.3 61.8,346.3 61.0,348.0 C60.2,349.7 59.7,352.0 59.0,352.0 C58.3,352.0 57.8,349.7 57.0,348.0 C56.2,346.3 54.7,344.3 54.0,342.0 C53.3,339.7 51.2,335.3 53.0,334.0Z" fill="#f4ec20"/>
<path d="M95.0,334.0 C97.2,332.8 106.8,332.8 109.0,334.0 C111.2,335.2 109.2,339.0 108.5,341.0 C107.8,343.0 106.1,344.7 105.0,346.0 C103.9,347.3 103.0,349.0 102.0,349.0 C101.0,349.0 100.0,347.3 99.0,346.0 C98.0,344.7 96.7,343.0 96.0,341.0 C95.3,339.0 92.8,335.2 95.0,334.0Z" fill="#f4ec20"/>
<path d="M59.7,449.0 C60.6,449.0 61.6,454.9 62.4,457.8 C63.1,460.7 63.6,463.7 64.1,466.6 C64.6,469.5 65.1,472.5 65.4,475.4 C65.7,478.3 65.9,481.3 66.0,484.2 C66.2,487.1 66.2,490.1 66.2,493.0 C66.1,495.9 66.1,498.9 65.9,501.8 C65.8,504.7 65.6,507.7 65.4,510.6 C65.2,513.5 64.9,516.5 64.6,519.4 C64.2,522.3 63.9,525.3 63.3,528.2 C62.6,531.1 61.5,537.0 60.5,537.0 C59.5,537.0 58.3,531.1 57.6,528.2 C56.8,525.3 56.5,522.3 56.1,519.4 C55.7,516.5 55.4,513.5 55.1,510.6 C54.8,507.7 54.6,504.7 54.4,501.8 C54.2,498.9 54.1,495.9 54.0,493.0 C54.0,490.1 53.9,487.1 54.0,484.2 C54.1,481.3 54.2,478.3 54.5,475.4 C54.8,472.5 55.1,469.5 55.6,466.6 C56.0,463.7 56.5,460.7 57.2,457.8 C57.9,454.9 58.8,449.0 59.7,449.0Z" fill="#f4ec20"/>
<path d="M101.1,448.0 C101.9,448.0 102.9,453.8 103.6,456.7 C104.3,459.6 104.8,462.5 105.3,465.4 C105.8,468.3 106.2,471.2 106.4,474.1 C106.7,477.0 106.9,479.9 107.0,482.8 C107.1,485.7 107.1,488.6 107.1,491.5 C107.0,494.4 106.9,497.3 106.8,500.2 C106.6,503.1 106.4,506.0 106.2,508.9 C105.9,511.8 105.6,514.7 105.2,517.6 C104.9,520.5 104.6,523.4 103.9,526.3 C103.2,529.2 102.0,535.0 101.1,535.0 C100.2,535.0 99.0,529.2 98.3,526.3 C97.6,523.4 97.3,520.5 97.0,517.6 C96.6,514.7 96.3,511.8 96.0,508.9 C95.8,506.0 95.6,503.1 95.4,500.2 C95.3,497.3 95.2,494.4 95.1,491.5 C95.1,488.6 95.1,485.7 95.2,482.8 C95.3,479.9 95.5,477.0 95.8,474.1 C96.0,471.2 96.4,468.3 96.9,465.4 C97.4,462.5 97.9,459.6 98.6,456.7 C99.3,453.8 100.3,448.0 101.1,448.0Z" fill="#f4ec20"/>
<path d="M143.1,451.0 C144.1,451.0 145.2,456.6 146.1,459.4 C146.9,462.2 147.5,465.0 148.0,467.8 C148.6,470.6 149.1,473.4 149.4,476.2 C149.8,479.0 150.0,481.8 150.1,484.6 C150.3,487.4 150.3,490.2 150.3,493.0 C150.2,495.8 150.1,498.6 150.0,501.4 C149.9,504.2 149.7,507.0 149.4,509.8 C149.1,512.6 148.8,515.4 148.4,518.2 C148.0,521.0 147.8,523.8 147.0,526.6 C146.2,529.4 145.0,535.0 143.9,535.0 C142.8,535.0 141.5,529.4 140.6,526.6 C139.8,523.8 139.5,521.0 139.0,518.2 C138.6,515.4 138.2,512.6 137.9,509.8 C137.6,507.0 137.4,504.2 137.2,501.4 C137.0,498.6 136.8,495.8 136.7,493.0 C136.7,490.2 136.6,487.4 136.7,484.6 C136.8,481.8 137.0,479.0 137.3,476.2 C137.6,473.4 138.0,470.6 138.5,467.8 C139.0,465.0 139.5,462.2 140.3,459.4 C141.1,456.6 142.1,451.0 143.1,451.0Z" fill="#f4ec20"/>
<path d="M184.5,449.0 C185.3,449.0 186.3,454.9 187.0,457.8 C187.7,460.7 188.2,463.7 188.7,466.6 C189.1,469.5 189.5,472.5 189.8,475.4 C190.1,478.3 190.3,481.3 190.4,484.2 C190.5,487.1 190.5,490.1 190.5,493.0 C190.4,495.9 190.3,498.9 190.2,501.8 C190.1,504.7 189.9,507.7 189.7,510.6 C189.5,513.5 189.2,516.5 188.8,519.4 C188.5,522.3 188.2,525.3 187.6,528.2 C186.9,531.1 185.8,537.0 184.9,537.0 C184.0,537.0 182.8,531.1 182.1,528.2 C181.5,525.3 181.2,522.3 180.8,519.4 C180.4,516.5 180.1,513.5 179.9,510.6 C179.6,507.7 179.4,504.7 179.3,501.8 C179.1,498.9 179.0,495.9 178.9,493.0 C178.9,490.1 178.8,487.1 178.9,484.2 C179.0,481.3 179.2,478.3 179.5,475.4 C179.7,472.5 180.1,469.5 180.5,466.6 C180.9,463.7 181.4,460.7 182.1,457.8 C182.7,454.9 183.7,449.0 184.5,449.0Z" fill="#f4ec20"/>
<path d="M59.6,461.0 C60.2,461.0 61.0,466.0 61.6,468.5 C62.1,471.0 62.5,473.5 62.9,476.0 C63.3,478.5 63.7,480.9 64.0,483.4 C64.3,485.9 64.5,488.4 64.7,490.9 C64.9,493.4 65.1,495.9 65.2,498.4 C65.2,500.9 65.3,503.4 65.2,505.9 C65.2,508.4 65.1,510.9 64.9,513.4 C64.8,515.9 64.5,518.3 64.2,520.8 C63.9,523.3 63.7,525.8 63.1,528.3 C62.4,530.8 61.3,535.8 60.4,535.8 C59.5,535.8 58.3,530.8 57.6,528.3 C56.9,525.8 56.6,523.3 56.3,520.8 C55.9,518.3 55.6,515.9 55.4,513.4 C55.2,510.9 55.0,508.4 54.9,505.9 C54.8,503.4 54.8,500.9 54.8,498.4 C54.9,495.9 55.0,493.4 55.1,490.9 C55.2,488.4 55.4,485.9 55.7,483.4 C55.9,480.9 56.2,478.5 56.6,476.0 C56.9,473.5 57.3,471.0 57.8,468.5 C58.3,466.0 59.0,461.0 59.6,461.0Z" fill="#f87018"/>
<path d="M101.0,460.0 C101.6,460.0 102.3,464.9 102.9,467.4 C103.4,469.8 103.7,472.3 104.1,474.8 C104.5,477.2 104.8,479.7 105.1,482.1 C105.3,484.6 105.6,487.1 105.7,489.5 C105.9,492.0 106.0,494.4 106.1,496.9 C106.1,499.4 106.1,501.8 106.1,504.3 C106.0,506.7 105.9,509.2 105.7,511.7 C105.5,514.1 105.2,516.6 104.9,519.0 C104.6,521.5 104.3,524.0 103.7,526.4 C103.0,528.9 101.9,533.8 101.0,533.8 C100.1,533.8 99.0,528.9 98.3,526.4 C97.7,524.0 97.4,521.5 97.1,519.0 C96.8,516.6 96.5,514.1 96.3,511.7 C96.1,509.2 96.0,506.7 95.9,504.3 C95.9,501.8 95.9,499.4 95.9,496.9 C96.0,494.4 96.1,492.0 96.3,489.5 C96.4,487.1 96.7,484.6 96.9,482.1 C97.2,479.7 97.5,477.2 97.9,474.8 C98.3,472.3 98.6,469.8 99.1,467.4 C99.7,464.9 100.4,460.0 101.0,460.0Z" fill="#f87018"/>
<path d="M143.0,463.0 C143.7,463.0 144.6,467.7 145.2,470.1 C145.8,472.4 146.3,474.8 146.8,477.2 C147.2,479.5 147.6,481.9 148.0,484.2 C148.3,486.6 148.6,489.0 148.8,491.3 C149.0,493.7 149.2,496.0 149.3,498.4 C149.3,500.8 149.4,503.1 149.3,505.5 C149.3,507.8 149.2,510.2 149.0,512.6 C148.8,514.9 148.5,517.3 148.2,519.6 C147.8,522.0 147.5,524.4 146.8,526.7 C146.1,529.1 144.8,533.8 143.8,533.8 C142.8,533.8 141.4,529.1 140.6,526.7 C139.8,524.4 139.5,522.0 139.1,519.6 C138.7,517.3 138.4,514.9 138.1,512.6 C137.9,510.2 137.7,507.8 137.6,505.5 C137.5,503.1 137.5,500.8 137.5,498.4 C137.6,496.0 137.7,493.7 137.9,491.3 C138.0,489.0 138.2,486.6 138.5,484.2 C138.8,481.9 139.2,479.5 139.6,477.2 C140.0,474.8 140.4,472.4 140.9,470.1 C141.5,467.7 142.3,463.0 143.0,463.0Z" fill="#f87018"/>
<path d="M184.4,461.0 C185.0,461.0 185.7,466.0 186.2,468.5 C186.7,471.0 187.1,473.5 187.5,476.0 C187.8,478.5 188.2,480.9 188.4,483.4 C188.7,485.9 188.9,488.4 189.1,490.9 C189.3,493.4 189.4,495.9 189.5,498.4 C189.5,500.9 189.5,503.4 189.5,505.9 C189.4,508.4 189.3,510.9 189.2,513.4 C189.0,515.9 188.8,518.3 188.5,520.8 C188.2,523.3 187.9,525.8 187.3,528.3 C186.7,530.8 185.7,535.8 184.8,535.8 C183.9,535.8 182.8,530.8 182.2,528.3 C181.5,525.8 181.3,523.3 181.0,520.8 C180.6,518.3 180.4,515.9 180.2,513.4 C180.0,510.9 179.9,508.4 179.8,505.9 C179.7,503.4 179.7,500.9 179.7,498.4 C179.8,495.9 179.9,493.4 180.0,490.9 C180.2,488.4 180.4,485.9 180.6,483.4 C180.8,480.9 181.1,478.5 181.5,476.0 C181.8,473.5 182.2,471.0 182.7,468.5 C183.1,466.0 183.8,461.0 184.4,461.0Z" fill="#f87018"/>
<path d="M59.2,462.0 C59.7,462.0 60.3,466.9 60.7,469.3 C61.2,471.7 61.5,474.2 61.8,476.6 C62.2,479.0 62.4,481.5 62.7,483.9 C63.0,486.3 63.2,488.8 63.4,491.2 C63.5,493.6 63.7,496.1 63.8,498.5 C63.9,500.9 64.0,503.4 64.0,505.8 C64.0,508.2 64.0,510.7 63.9,513.1 C63.8,515.5 63.6,518.0 63.3,520.4 C63.1,522.8 62.9,525.3 62.3,527.7 C61.8,530.1 60.8,535.0 60.0,535.0 C59.2,535.0 58.1,530.1 57.5,527.7 C56.9,525.3 56.7,522.8 56.3,520.4 C56.0,518.0 55.8,515.5 55.7,513.1 C55.5,510.7 55.4,508.2 55.4,505.8 C55.3,503.4 55.4,500.9 55.4,498.5 C55.5,496.1 55.6,493.6 55.7,491.2 C55.8,488.8 56.0,486.3 56.2,483.9 C56.4,481.5 56.6,479.0 56.9,476.6 C57.2,474.2 57.4,471.7 57.8,469.3 C58.2,466.9 58.7,462.0 59.2,462.0Z" fill="#f01808"/>
<path d="M100.6,464.0 C101.1,464.0 101.6,468.6 102.0,470.9 C102.4,473.2 102.7,475.5 103.0,477.8 C103.3,480.1 103.6,482.4 103.8,484.7 C104.0,487.0 104.2,489.3 104.3,491.6 C104.5,493.9 104.6,496.2 104.7,498.5 C104.8,500.8 104.8,503.1 104.8,505.4 C104.8,507.7 104.7,510.0 104.6,512.3 C104.5,514.6 104.3,516.9 104.0,519.2 C103.7,521.5 103.5,523.8 103.0,526.1 C102.4,528.4 101.4,533.0 100.6,533.0 C99.8,533.0 98.8,528.4 98.2,526.1 C97.7,523.8 97.5,521.5 97.2,519.2 C96.9,516.9 96.7,514.6 96.6,512.3 C96.5,510.0 96.4,507.7 96.4,505.4 C96.4,503.1 96.4,500.8 96.5,498.5 C96.6,496.2 96.7,493.9 96.9,491.6 C97.0,489.3 97.2,487.0 97.4,484.7 C97.6,482.4 97.9,480.1 98.2,477.8 C98.5,475.5 98.8,473.2 99.2,470.9 C99.6,468.6 100.1,464.0 100.6,464.0Z" fill="#f01808"/>
<path d="M142.6,457.0 C143.2,457.0 143.9,462.1 144.4,464.6 C144.9,467.1 145.3,469.7 145.6,472.2 C146.0,474.7 146.3,477.3 146.6,479.8 C146.9,482.3 147.2,484.9 147.4,487.4 C147.6,489.9 147.7,492.5 147.9,495.0 C148.0,497.5 148.1,500.1 148.1,502.6 C148.1,505.1 148.1,507.7 147.9,510.2 C147.8,512.7 147.6,515.3 147.3,517.8 C147.0,520.3 146.8,522.9 146.1,525.4 C145.5,527.9 144.3,533.0 143.4,533.0 C142.5,533.0 141.2,527.9 140.5,525.4 C139.8,522.9 139.5,520.3 139.2,517.8 C138.8,515.3 138.6,512.7 138.4,510.2 C138.2,507.7 138.1,505.1 138.1,502.6 C138.0,500.1 138.1,497.5 138.1,495.0 C138.2,492.5 138.3,489.9 138.5,487.4 C138.6,484.9 138.8,482.3 139.1,479.8 C139.3,477.3 139.6,474.7 139.9,472.2 C140.2,469.7 140.5,467.1 141.0,464.6 C141.4,462.1 142.0,457.0 142.6,457.0Z" fill="#f01808"/>
<path d="M184.0,463.0 C184.5,463.0 185.0,467.8 185.4,470.2 C185.8,472.6 186.1,475.0 186.4,477.4 C186.7,479.8 186.9,482.2 187.2,484.6 C187.4,487.0 187.6,489.4 187.7,491.8 C187.9,494.2 188.0,496.6 188.1,499.0 C188.2,501.4 188.2,503.8 188.2,506.2 C188.2,508.6 188.2,511.0 188.1,513.4 C188.0,515.8 187.8,518.2 187.6,520.6 C187.3,523.0 187.1,525.4 186.6,527.8 C186.1,530.2 185.1,535.0 184.4,535.0 C183.7,535.0 182.7,530.2 182.1,527.8 C181.6,525.4 181.3,523.0 181.1,520.6 C180.8,518.2 180.6,515.8 180.5,513.4 C180.3,511.0 180.3,508.6 180.2,506.2 C180.2,503.8 180.3,501.4 180.3,499.0 C180.4,496.6 180.5,494.2 180.6,491.8 C180.7,489.4 180.9,487.0 181.1,484.6 C181.3,482.2 181.5,479.8 181.8,477.4 C182.0,475.0 182.3,472.6 182.7,470.2 C183.1,467.8 183.5,463.0 184.0,463.0Z" fill="#f01808"/>
<path d="M55.5,334.0 C56.4,333.1 60.6,333.1 61.5,334.0 C62.4,334.9 61.5,338.2 61.0,339.5 C60.5,340.8 59.3,342.0 58.5,342.0 C57.7,342.0 56.5,340.8 56.0,339.5 C55.5,338.2 54.6,334.9 55.5,334.0Z" fill="#f4ec20" stroke="#f4ec20" stroke-width="5" stroke-linejoin="round"/>
<path d="M99.0,334.0 C100.2,333.0 106.6,333.0 108.0,334.0 C109.4,335.0 108.2,338.5 107.5,340.0 C106.8,341.5 105.2,343.0 104.0,343.0 C102.8,343.0 101.3,341.5 100.5,340.0 C99.7,338.5 97.8,335.0 99.0,334.0Z" fill="#f4ec20" stroke="#f4ec20" stroke-width="5" stroke-linejoin="round"/>
<path d="M136.0,334.0 C136.9,332.9 141.0,332.9 142.0,334.0 C143.0,335.1 142.5,338.8 142.0,340.5 C141.5,342.2 139.9,344.0 139.0,344.0 C138.1,344.0 136.8,342.2 136.3,340.5 C135.8,338.8 135.1,335.1 136.0,334.0Z" fill="#f4ec20" stroke="#f4ec20" stroke-width="5" stroke-linejoin="round"/>
<path d="M144.0,334.0 C144.9,332.9 149.0,332.9 150.0,334.0 C151.0,335.1 150.3,338.8 149.8,340.5 C149.3,342.2 147.9,344.0 147.0,344.0 C146.1,344.0 144.8,342.2 144.3,340.5 C143.8,338.8 143.1,335.1 144.0,334.0Z" fill="#f4ec20" stroke="#f4ec20" stroke-width="5" stroke-linejoin="round"/>
<path d="M55.5,334.0 C56.4,333.1 60.6,333.1 61.5,334.0 C62.4,334.9 61.5,338.2 61.0,339.5 C60.5,340.8 59.3,342.0 58.5,342.0 C57.7,342.0 56.5,340.8 56.0,339.5 C55.5,338.2 54.6,334.9 55.5,334.0Z" fill="#f8a018" stroke="#f8a018" stroke-width="2.5" stroke-linejoin="round"/>
<path d="M99.0,334.0 C100.2,333.0 106.6,333.0 108.0,334.0 C109.4,335.0 108.2,338.5 107.5,340.0 C106.8,341.5 105.2,343.0 104.0,343.0 C102.8,343.0 101.3,341.5 100.5,340.0 C99.7,338.5 97.8,335.0 99.0,334.0Z" fill="#f8a018" stroke="#f8a018" stroke-width="2.5" stroke-linejoin="round"/>
<path d="M136.0,334.0 C136.9,332.9 141.0,332.9 142.0,334.0 C143.0,335.1 142.5,338.8 142.0,340.5 C141.5,342.2 139.9,344.0 139.0,344.0 C138.1,344.0 136.8,342.2 136.3,340.5 C135.8,338.8 135.1,335.1 136.0,334.0Z" fill="#f8a018" stroke="#f8a018" stroke-width="2.5" stroke-linejoin="round"/>
<path d="M144.0,334.0 C144.9,332.9 149.0,332.9 150.0,334.0 C151.0,335.1 150.3,338.8 149.8,340.5 C149.3,342.2 147.9,344.0 147.0,344.0 C146.1,344.0 144.8,342.2 144.3,340.5 C143.8,338.8 143.1,335.1 144.0,334.0Z" fill="#f8a018" stroke="#f8a018" stroke-width="2.5" stroke-linejoin="round"/>
<path d="M55.5,334.0 C56.4,333.1 60.6,333.1 61.5,334.0 C62.4,334.9 61.5,338.2 61.0,339.5 C60.5,340.8 59.3,342.0 58.5,342.0 C57.7,342.0 56.5,340.8 56.0,339.5 C55.5,338.2 54.6,334.9 55.5,334.0Z" fill="#f01808"/>
<path d="M99.0,334.0 C100.2,333.0 106.6,333.0 108.0,334.0 C109.4,335.0 108.2,338.5 107.5,340.0 C106.8,341.5 105.2,343.0 104.0,343.0 C102.8,343.0 101.3,341.5 100.5,340.0 C99.7,338.5 97.8,335.0 99.0,334.0Z" fill="#f01808"/>
<path d="M136.0,334.0 C136.9,332.9 141.0,332.9 142.0,334.0 C143.0,335.1 142.5,338.8 142.0,340.5 C141.5,342.2 139.9,344.0 139.0,344.0 C138.1,344.0 136.8,342.2 136.3,340.5 C135.8,338.8 135.1,335.1 136.0,334.0Z" fill="#f01808"/>
<path d="M144.0,334.0 C144.9,332.9 149.0,332.9 150.0,334.0 C151.0,335.1 150.3,338.8 149.8,340.5 C149.3,342.2 147.9,344.0 147.0,344.0 C146.1,344.0 144.8,342.2 144.3,340.5 C143.8,338.8 143.1,335.1 144.0,334.0Z" fill="#f01808"/>
</g></g>
<g class="t" text-anchor="end">
<text x="33" y="344">50</text>
<text x="33" y="383.5">40</text>
<text x="33" y="422.5">30</text>
<text x="33" y="461.5">20</text>
<text x="33" y="499.5">10</text>
<text x="33" y="539.3">0</text>
</g>
<rect x="32.2" y="536.2" width="3" height="2.6" fill="#2652ec"/><path d="M27.8,539.3H36.4M32.3,537V543" stroke="#f02050" stroke-width="1" fill="none"/>
<g class="t" text-anchor="middle">
<text x="35.3" y="550.3">0</text>
<text x="74.5" y="550.3">10</text>
<text x="115.8" y="550.3">20</text>
<text x="157.1" y="550.3">30</text>
<text x="196.7" y="550.3">40</text>
</g>
<text class="ax" x="122.2" y="562.8" text-anchor="middle" style="font-size:13.8px">Position (µm)</text>
<text class="ay" transform="translate(11.8,438) rotate(-90)" text-anchor="middle" style="font-size:13.6px">Position (µm)</text>

<g fill="none" stroke="#000" stroke-width="1.3" stroke-linejoin="round" stroke-linecap="round">
<polyline points="218.6,339.7 218.6,538.3 384.6,538.3 384.6,536.5"/>
<path d="M218.5,343.0 C219.2,343.6 220.4,346.0 221.9,346.2 C223.4,346.4 224.7,344.6 226.2,344.0 C227.7,343.4 228.3,343.2 229.4,343.4 C230.5,343.6 230.5,345.8 231.6,345.1 C232.7,344.4 233.5,340.6 234.8,339.7 C236.1,338.8 236.4,340.8 238.1,340.4 C239.8,340.0 241.3,338.0 243.5,337.6 C245.7,337.2 245.7,337.6 248.9,338.6 C252.1,339.6 256.0,341.7 259.7,342.5 C263.4,343.3 264.6,342.8 267.2,342.5 C269.8,342.2 270.2,341.2 272.6,340.8 C275.0,340.4 276.1,341.4 279.1,340.4 C282.1,339.4 285.2,336.7 287.8,336.0 C290.4,335.3 290.4,336.4 292.1,337.1 C293.8,337.8 293.7,338.7 296.5,339.7 C299.3,340.7 302.5,341.5 306.2,341.9 C309.9,342.3 311.3,343.0 314.8,341.9 C318.3,340.8 320.7,337.5 323.5,336.5 C326.3,335.5 327.0,337.3 328.9,337.1 C330.8,336.9 330.6,334.3 333.2,335.4 C335.8,336.5 337.5,341.1 341.8,342.5 C346.1,343.9 351.3,342.8 354.8,342.5 C358.3,342.2 357.2,341.5 359.1,340.8 C361.0,340.1 362.8,339.3 364.5,339.1 C366.2,338.9 365.9,339.9 367.8,339.7 C369.7,339.5 371.2,337.5 374.1,338.3 C377.0,339.1 380.7,342.5 382.4,343.5"/>
<path d="M218.6,380.6 C220.1,380.3 223.0,379.4 226.2,379.0 C229.4,378.6 232.2,379.5 234.8,378.4 C237.4,377.3 237.5,373.9 239.2,373.6 C240.9,373.3 241.6,376.5 243.5,376.9 C245.4,377.3 246.3,375.1 248.9,375.4 C251.5,375.7 252.9,377.2 256.4,378.4 C259.9,379.6 263.0,381.2 266.2,381.2 C269.4,381.2 269.6,379.4 272.6,378.4 C275.6,377.4 277.8,377.1 281.3,376.2 C284.8,375.3 287.1,374.0 289.9,374.1 C292.7,374.2 293.4,375.7 295.3,376.9 C297.2,378.1 297.9,379.1 299.6,380.1 C301.3,381.1 302.2,381.8 304.0,381.8 C305.8,381.8 305.8,380.4 308.4,380.1 C311.0,379.8 314.4,381.0 317.0,380.1 C319.6,379.2 319.6,376.6 321.3,375.8 C323.0,375.0 323.4,376.5 325.6,376.2 C327.8,375.9 330.1,374.0 332.1,374.1 C334.1,374.2 333.9,375.3 335.4,376.9 C336.9,378.5 337.5,381.4 339.7,382.3 C341.9,383.2 343.2,381.6 346.2,381.2 C349.2,380.8 350.9,381.1 354.8,380.1 C358.7,379.1 361.9,377.3 365.6,376.2 C369.3,375.1 370.4,373.9 373.2,374.7 C376.0,375.5 378.3,379.0 379.6,380.1"/>
<path d="M219.1,417.7 C221.4,417.7 226.5,418.6 230.5,417.7 C234.5,416.8 236.4,414.2 239.2,413.0 C242.0,411.8 242.4,412.1 244.6,411.9 C246.8,411.7 246.8,411.0 250.0,411.9 C253.2,412.8 257.6,415.3 260.8,416.2 C264.0,417.1 263.8,416.7 266.2,416.6 C268.6,416.5 270.2,415.9 272.6,415.6 C275.0,415.3 275.6,416.0 278.0,415.1 C280.4,414.2 281.9,412.2 284.5,411.2 C287.1,410.2 288.8,410.1 291.0,410.2 C293.2,410.3 293.6,411.0 295.3,411.9 C297.0,412.8 297.6,413.5 299.6,414.7 C301.6,415.9 302.7,417.3 305.1,417.7 C307.5,418.1 309.0,417.0 311.6,416.6 C314.2,416.2 315.4,417.0 318.1,415.6 C320.8,414.2 322.8,410.6 325.0,409.7 C327.2,408.8 327.3,410.9 328.9,411.2 C330.5,411.5 331.0,410.6 333.2,411.4 C335.4,412.2 336.9,414.1 339.7,415.1 C342.5,416.1 344.2,416.5 347.2,416.6 C350.2,416.7 351.8,416.5 354.8,415.6 C357.8,414.7 359.8,412.5 362.4,411.9 C365.0,411.3 365.6,412.6 367.8,412.5 C370.0,412.4 370.8,410.8 373.2,411.2 C375.6,411.6 378.3,414.0 379.6,414.7"/>
<path d="M218.6,452.5 C219.7,452.9 221.6,454.4 224.0,454.5 C226.4,454.6 228.5,453.5 230.5,453.0 C232.5,452.5 231.2,453.2 233.8,451.9 C236.4,450.6 240.7,447.5 243.5,446.5 C246.3,445.5 245.2,446.0 247.8,446.9 C250.4,447.8 252.7,449.6 256.4,450.8 C260.1,452.0 263.0,452.8 266.2,453.0 C269.4,453.2 269.8,452.9 272.6,451.9 C275.4,450.9 277.8,449.1 280.2,448.2 C282.6,447.3 282.8,448.2 284.5,447.6 C286.2,447.0 287.1,445.6 288.8,445.4 C290.5,445.2 291.0,445.5 293.2,446.5 C295.4,447.5 297.0,449.1 299.6,450.4 C302.2,451.7 303.8,452.6 306.2,453.0 C308.6,453.4 309.4,453.2 311.6,452.5 C313.8,451.8 314.2,451.0 317.0,449.7 C319.8,448.4 322.8,446.6 325.6,446.0 C328.4,445.4 326.5,445.3 331.0,446.9 C335.5,448.5 343.1,453.1 348.3,454.0 C353.5,454.9 353.3,452.8 357.0,451.2 C360.7,449.6 363.7,446.9 366.7,446.0 C369.7,445.1 369.5,445.8 372.1,446.5 C374.7,447.2 378.1,449.1 379.6,449.7"/>
<path d="M219.1,493.3 C221.0,493.3 225.5,493.5 228.4,493.3 C231.3,493.1 231.6,493.4 233.8,492.2 C236.0,491.0 237.3,489.1 239.2,487.3 C241.1,485.5 241.8,484.1 243.5,483.4 C245.2,482.7 246.1,483.4 247.8,484.0 C249.5,484.6 250.4,484.9 252.1,486.2 C253.8,487.5 253.6,489.2 256.4,490.5 C259.2,491.8 263.6,492.1 266.2,492.7 C268.8,493.3 268.1,493.4 269.4,493.3 C270.7,493.2 271.1,492.3 272.6,492.0 C274.1,491.7 275.3,492.5 277.0,491.6 C278.7,490.7 279.8,489.1 281.3,487.3 C282.8,485.5 282.6,482.9 284.5,482.5 C286.4,482.1 288.6,483.9 291.0,485.1 C293.4,486.3 294.4,487.1 296.4,488.4 C298.4,489.7 299.3,490.7 300.8,491.6 C302.3,492.5 301.0,492.5 304.0,492.7 C307.0,492.9 312.2,493.8 315.9,492.7 C319.6,491.6 320.5,489.3 322.4,487.3 C324.3,485.3 324.1,483.5 325.6,482.5 C327.1,481.5 327.2,480.9 330.0,482.5 C332.8,484.1 336.5,488.6 339.7,490.5 C342.9,492.4 342.3,491.9 346.2,492.2 C350.1,492.5 355.7,493.4 359.1,492.2 C362.5,491.0 361.9,488.4 363.4,486.2 C364.9,484.0 365.2,482.1 366.7,481.2 C368.2,480.3 368.4,480.0 371.0,481.9 C373.6,483.8 377.9,488.8 379.6,490.5"/>
<path d="M219.7,538.0 C220.8,537.7 222.3,537.0 225.1,536.7 C227.9,536.4 231.2,537.0 233.8,536.3 C236.4,535.6 236.6,535.3 238.1,533.1 C239.6,530.9 240.0,527.8 241.3,525.5 C242.6,523.2 243.3,522.2 244.6,521.8 C245.9,521.4 246.3,521.8 247.8,523.4 C249.3,525.0 250.4,527.4 252.1,529.8 C253.8,532.2 254.7,533.7 256.4,535.2 C258.1,536.7 258.0,537.2 260.8,537.4 C263.6,537.6 267.7,536.6 270.5,536.3 C273.3,536.0 273.1,536.4 274.8,535.7 C276.5,535.0 277.4,534.9 279.1,532.6 C280.8,530.3 281.9,526.5 283.4,524.4 C284.9,522.3 285.2,522.4 286.7,522.3 C288.2,522.2 289.5,522.7 291.0,524.0 C292.5,525.3 292.8,526.6 294.3,528.8 C295.8,531.0 296.9,533.6 298.6,535.2 C300.3,536.8 300.4,536.6 303.0,537.0 C305.6,537.4 308.8,537.2 311.6,537.0 C314.4,536.8 315.1,536.3 317.0,535.9 C318.9,535.5 320.0,536.4 321.3,535.2 C322.6,534.0 322.6,532.0 323.5,529.8 C324.4,527.6 324.5,525.6 325.6,524.0 C326.7,522.4 327.6,521.9 328.9,521.8 C330.2,521.7 330.6,521.6 332.1,523.4 C333.6,525.2 334.7,528.3 336.4,530.9 C338.1,533.5 339.1,535.0 340.8,536.3 C342.5,537.6 341.0,537.2 345.1,537.4 C349.2,537.6 357.4,538.3 361.3,537.4 C365.2,536.5 363.2,535.7 364.5,533.1 C365.8,530.5 366.6,526.6 367.8,524.4 C369.0,522.2 369.1,522.2 370.4,522.1 C371.7,522.0 372.7,521.8 374.2,524.0 C375.7,526.2 376.7,530.4 377.8,533.2 C378.9,536.0 379.3,536.9 379.7,537.8"/>
</g>
<text class="ax" transform="translate(210.5,434) rotate(-90)" text-anchor="middle" style="font-size:13.3px">Intensity (a.u.)</text>
<g class="t">
<text x="388.6" y="347" style="font-size:10.6px">50<tspan font-weight="normal"> µm</tspan></text>
<text x="388" y="384">30</text>
<text x="388" y="421.5">40</text>
<text x="388" y="458.5">20</text>
<text x="388" y="495.5">10</text>
<text x="389" y="532.5">1</text>
</g>
<g class="t" text-anchor="middle">
<text x="218.6" y="550.3">0</text>
<text x="261.8" y="550.3">10</text>
<text x="303.4" y="550.3">20</text>
<text x="344.9" y="550.3">30</text>
<text x="386.3" y="550.3">40</text>
</g>
<text class="ax" x="308.6" y="563.3" text-anchor="middle" style="font-size:13.8px">Position (µm)</text>
<text x="212" y="588.7" text-anchor="middle" style="font-size:15px">(b)</text>
</svg>
</body></html>
